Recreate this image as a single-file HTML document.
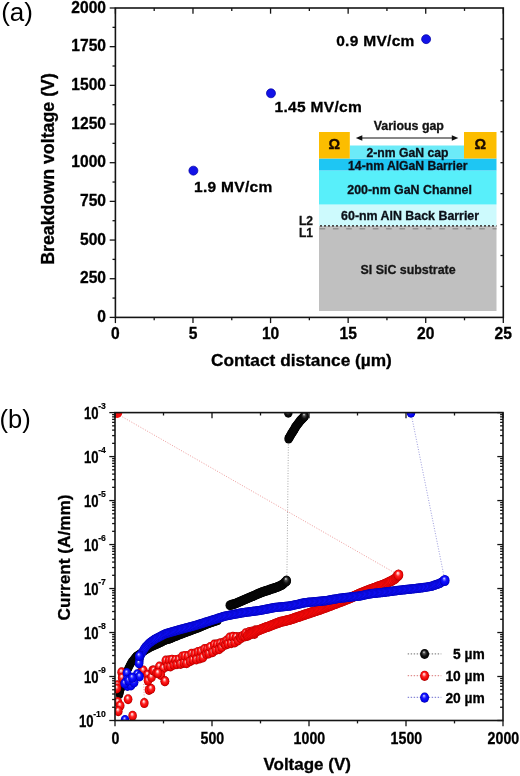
<!DOCTYPE html>
<html><head><meta charset="utf-8"><style>
html,body{margin:0;padding:0;background:#fff;width:520px;height:776px;overflow:hidden}
svg{display:block;font-family:'Liberation Sans', Arial, sans-serif}
</style></head><body>
<svg width="520" height="776" viewBox="0 0 520 776">
<defs>
<radialGradient id="gk" cx="0.5" cy="0.5" r="0.5" fx="0.42" fy="0.3"><stop offset="0" stop-color="#fff"/><stop offset="0.25" stop-color="#555"/><stop offset="0.6" stop-color="#111"/><stop offset="1" stop-color="#000"/></radialGradient>
<radialGradient id="gr" cx="0.5" cy="0.5" r="0.5" fx="0.42" fy="0.3"><stop offset="0" stop-color="#fff"/><stop offset="0.22" stop-color="#ffa0a0"/><stop offset="0.45" stop-color="#ff2424"/><stop offset="0.85" stop-color="#e80000"/><stop offset="1" stop-color="#a00000"/></radialGradient>
<radialGradient id="gb" cx="0.5" cy="0.5" r="0.5" fx="0.42" fy="0.3"><stop offset="0" stop-color="#fff"/><stop offset="0.2" stop-color="#7070ff"/><stop offset="0.45" stop-color="#1414ff"/><stop offset="0.85" stop-color="#0000e8"/><stop offset="1" stop-color="#0000a0"/></radialGradient>
<radialGradient id="tk" cx="0.5" cy="0.5" r="0.5"><stop offset="0" stop-color="#2a2a2a"/><stop offset="0.7" stop-color="#0a0a0a"/><stop offset="1" stop-color="#000"/></radialGradient>
<radialGradient id="tr" cx="0.5" cy="0.5" r="0.5"><stop offset="0" stop-color="#ff3a3a"/><stop offset="0.75" stop-color="#ff0c0c"/><stop offset="1" stop-color="#c80000"/></radialGradient>
<radialGradient id="tb" cx="0.5" cy="0.5" r="0.5"><stop offset="0" stop-color="#3a3aff"/><stop offset="0.75" stop-color="#1010ff"/><stop offset="1" stop-color="#0000b8"/></radialGradient>
<clipPath id="cb"><rect x="115.0" y="412.6" width="388.0" height="307.9"/></clipPath>
</defs>
<rect x="0" y="0" width="520" height="776" fill="#fff"/>
<text x="1.20" y="21.20" font-size="26" text-anchor="start" font-weight="normal" fill="#000" >(a)</text>
<rect x="319" y="226" width="177.5" height="85" fill="#c0c0c0"/>
<rect x="319" y="204.5" width="177.5" height="21.5" fill="#cdfafd"/>
<rect x="319" y="170.5" width="177.5" height="34" fill="#58effa"/>
<rect x="319" y="158.5" width="177.5" height="12" fill="#1ec6f3"/>
<rect x="349.8" y="145.5" width="114.4" height="13" fill="#6cebf8"/>
<rect x="319" y="132" width="30.8" height="26.5" fill="#fcbd00"/>
<rect x="464" y="132" width="32.5" height="26.5" fill="#fcbd00"/>
<line x1="320" y1="225.8" x2="496.5" y2="225.8" stroke="#4a4a4a" stroke-width="1.8" stroke-dasharray="2 2"/>
<line x1="319.6" y1="228.7" x2="496.5" y2="228.7" stroke="#929292" stroke-width="1.6" stroke-dasharray="5.6 7.7"/>
<line x1="361.00" y1="138.00" x2="453.00" y2="138.00" stroke="#111" stroke-width="1.2" />
<polygon points="355.8,138 362.3,135.3 362.3,140.7" fill="#111"/>
<polygon points="458.3,138 451.8,135.3 451.8,140.7" fill="#111"/>
<text x="408.80" y="130.00" font-size="12.4" text-anchor="middle" font-weight="bold" fill="#111" stroke="#111" stroke-width="0.3" >Various gap</text>
<text x="334.40" y="149.20" font-size="14.5" text-anchor="middle" font-weight="bold" fill="#1a0a00" stroke="#1a0a00" stroke-width="0.3" >&#937;</text>
<text x="480.30" y="149.20" font-size="14.5" text-anchor="middle" font-weight="bold" fill="#1a0a00" stroke="#1a0a00" stroke-width="0.3" >&#937;</text>
<text x="407.50" y="156.50" font-size="12.2" text-anchor="middle" font-weight="bold" fill="#0b0f18" stroke="#0b0f18" stroke-width="0.3" >2-nm GaN cap</text>
<text x="407.80" y="170.00" font-size="12.2" text-anchor="middle" font-weight="bold" fill="#0b0f18" stroke="#0b0f18" stroke-width="0.3" >14-nm AlGaN Barrier</text>
<text x="409.60" y="193.60" font-size="12.4" text-anchor="middle" font-weight="bold" fill="#0b0f18" stroke="#0b0f18" stroke-width="0.3" >200-nm GaN Channel</text>
<text x="410.10" y="219.80" font-size="12.4" text-anchor="middle" font-weight="bold" fill="#0b0f18" stroke="#0b0f18" stroke-width="0.3" >60-nm AlN Back Barrier</text>
<text x="408.10" y="273.60" font-size="12.4" text-anchor="middle" font-weight="bold" fill="#151515" stroke="#151515" stroke-width="0.3" >SI SiC substrate</text>
<text x="313.00" y="224.50" font-size="12" text-anchor="end" font-weight="bold" fill="#111" stroke="#111" stroke-width="0.3" >L2</text>
<text x="313.00" y="237.20" font-size="12" text-anchor="end" font-weight="bold" fill="#111" stroke="#111" stroke-width="0.3" >L1</text>
<rect x="115.4" y="8.0" width="387.9" height="309.4" fill="none" stroke="#141414" stroke-width="1.6"/>
<line x1="503.30" y1="286.46" x2="500.50" y2="286.46" stroke="#141414" stroke-width="1.3" />
<line x1="503.30" y1="255.52" x2="500.50" y2="255.52" stroke="#141414" stroke-width="1.3" />
<line x1="503.30" y1="224.58" x2="500.50" y2="224.58" stroke="#141414" stroke-width="1.3" />
<line x1="503.30" y1="193.64" x2="500.50" y2="193.64" stroke="#141414" stroke-width="1.3" />
<line x1="503.30" y1="162.70" x2="500.50" y2="162.70" stroke="#141414" stroke-width="1.3" />
<line x1="503.30" y1="131.76" x2="500.50" y2="131.76" stroke="#141414" stroke-width="1.3" />
<line x1="503.30" y1="100.82" x2="500.50" y2="100.82" stroke="#141414" stroke-width="1.3" />
<line x1="503.30" y1="69.88" x2="500.50" y2="69.88" stroke="#141414" stroke-width="1.3" />
<line x1="503.30" y1="38.94" x2="500.50" y2="38.94" stroke="#141414" stroke-width="1.3" />
<line x1="109.70" y1="317.40" x2="115.40" y2="317.40" stroke="#141414" stroke-width="1.3" />
<text x="106.00" y="321.90" font-size="15.6" text-anchor="end" font-weight="bold" fill="#000" stroke="#000" stroke-width="0.3" >0</text>
<line x1="112.50" y1="298.06" x2="115.40" y2="298.06" stroke="#141414" stroke-width="1.3" />
<line x1="109.70" y1="278.72" x2="115.40" y2="278.72" stroke="#141414" stroke-width="1.3" />
<text x="106.00" y="283.22" font-size="15.6" text-anchor="end" font-weight="bold" fill="#000" stroke="#000" stroke-width="0.3" >250</text>
<line x1="112.50" y1="259.39" x2="115.40" y2="259.39" stroke="#141414" stroke-width="1.3" />
<line x1="109.70" y1="240.05" x2="115.40" y2="240.05" stroke="#141414" stroke-width="1.3" />
<text x="106.00" y="244.55" font-size="15.6" text-anchor="end" font-weight="bold" fill="#000" stroke="#000" stroke-width="0.3" >500</text>
<line x1="112.50" y1="220.71" x2="115.40" y2="220.71" stroke="#141414" stroke-width="1.3" />
<line x1="109.70" y1="201.38" x2="115.40" y2="201.38" stroke="#141414" stroke-width="1.3" />
<text x="106.00" y="205.88" font-size="15.6" text-anchor="end" font-weight="bold" fill="#000" stroke="#000" stroke-width="0.3" >750</text>
<line x1="112.50" y1="182.04" x2="115.40" y2="182.04" stroke="#141414" stroke-width="1.3" />
<line x1="109.70" y1="162.70" x2="115.40" y2="162.70" stroke="#141414" stroke-width="1.3" />
<text x="106.00" y="167.20" font-size="15.6" text-anchor="end" font-weight="bold" fill="#000" stroke="#000" stroke-width="0.3" >1000</text>
<line x1="112.50" y1="143.36" x2="115.40" y2="143.36" stroke="#141414" stroke-width="1.3" />
<line x1="109.70" y1="124.02" x2="115.40" y2="124.02" stroke="#141414" stroke-width="1.3" />
<text x="106.00" y="128.52" font-size="15.6" text-anchor="end" font-weight="bold" fill="#000" stroke="#000" stroke-width="0.3" >1250</text>
<line x1="112.50" y1="104.69" x2="115.40" y2="104.69" stroke="#141414" stroke-width="1.3" />
<line x1="109.70" y1="85.35" x2="115.40" y2="85.35" stroke="#141414" stroke-width="1.3" />
<text x="106.00" y="89.85" font-size="15.6" text-anchor="end" font-weight="bold" fill="#000" stroke="#000" stroke-width="0.3" >1500</text>
<line x1="112.50" y1="66.01" x2="115.40" y2="66.01" stroke="#141414" stroke-width="1.3" />
<line x1="109.70" y1="46.67" x2="115.40" y2="46.67" stroke="#141414" stroke-width="1.3" />
<text x="106.00" y="51.17" font-size="15.6" text-anchor="end" font-weight="bold" fill="#000" stroke="#000" stroke-width="0.3" >1750</text>
<line x1="112.50" y1="27.34" x2="115.40" y2="27.34" stroke="#141414" stroke-width="1.3" />
<line x1="109.70" y1="8.00" x2="115.40" y2="8.00" stroke="#141414" stroke-width="1.3" />
<text x="106.00" y="12.50" font-size="15.6" text-anchor="end" font-weight="bold" fill="#000" stroke="#000" stroke-width="0.3" >2000</text>
<line x1="115.40" y1="317.40" x2="115.40" y2="323.10" stroke="#141414" stroke-width="1.3" />
<line x1="115.40" y1="8.00" x2="115.40" y2="13.70" stroke="#141414" stroke-width="1.3" />
<text x="115.40" y="338.90" font-size="15.6" text-anchor="middle" font-weight="bold" fill="#000" stroke="#000" stroke-width="0.3" >0</text>
<line x1="154.19" y1="317.40" x2="154.19" y2="320.30" stroke="#141414" stroke-width="1.3" />
<line x1="154.19" y1="8.00" x2="154.19" y2="10.90" stroke="#141414" stroke-width="1.3" />
<line x1="192.98" y1="317.40" x2="192.98" y2="323.10" stroke="#141414" stroke-width="1.3" />
<line x1="192.98" y1="8.00" x2="192.98" y2="13.70" stroke="#141414" stroke-width="1.3" />
<text x="192.98" y="338.90" font-size="15.6" text-anchor="middle" font-weight="bold" fill="#000" stroke="#000" stroke-width="0.3" >5</text>
<line x1="231.77" y1="317.40" x2="231.77" y2="320.30" stroke="#141414" stroke-width="1.3" />
<line x1="231.77" y1="8.00" x2="231.77" y2="10.90" stroke="#141414" stroke-width="1.3" />
<line x1="270.56" y1="317.40" x2="270.56" y2="323.10" stroke="#141414" stroke-width="1.3" />
<line x1="270.56" y1="8.00" x2="270.56" y2="13.70" stroke="#141414" stroke-width="1.3" />
<text x="270.56" y="338.90" font-size="15.6" text-anchor="middle" font-weight="bold" fill="#000" stroke="#000" stroke-width="0.3" >10</text>
<line x1="309.35" y1="317.40" x2="309.35" y2="320.30" stroke="#141414" stroke-width="1.3" />
<line x1="309.35" y1="8.00" x2="309.35" y2="10.90" stroke="#141414" stroke-width="1.3" />
<line x1="348.14" y1="317.40" x2="348.14" y2="323.10" stroke="#141414" stroke-width="1.3" />
<line x1="348.14" y1="8.00" x2="348.14" y2="13.70" stroke="#141414" stroke-width="1.3" />
<text x="348.14" y="338.90" font-size="15.6" text-anchor="middle" font-weight="bold" fill="#000" stroke="#000" stroke-width="0.3" >15</text>
<line x1="386.93" y1="317.40" x2="386.93" y2="320.30" stroke="#141414" stroke-width="1.3" />
<line x1="386.93" y1="8.00" x2="386.93" y2="10.90" stroke="#141414" stroke-width="1.3" />
<line x1="425.72" y1="317.40" x2="425.72" y2="323.10" stroke="#141414" stroke-width="1.3" />
<line x1="425.72" y1="8.00" x2="425.72" y2="13.70" stroke="#141414" stroke-width="1.3" />
<text x="425.72" y="338.90" font-size="15.6" text-anchor="middle" font-weight="bold" fill="#000" stroke="#000" stroke-width="0.3" >20</text>
<line x1="464.51" y1="317.40" x2="464.51" y2="320.30" stroke="#141414" stroke-width="1.3" />
<line x1="464.51" y1="8.00" x2="464.51" y2="10.90" stroke="#141414" stroke-width="1.3" />
<line x1="503.30" y1="317.40" x2="503.30" y2="323.10" stroke="#141414" stroke-width="1.3" />
<line x1="503.30" y1="8.00" x2="503.30" y2="13.70" stroke="#141414" stroke-width="1.3" />
<text x="503.30" y="338.90" font-size="15.6" text-anchor="middle" font-weight="bold" fill="#000" stroke="#000" stroke-width="0.3" >25</text>
<text x="211.00" y="366.40" font-size="17.3" text-anchor="start" font-weight="bold" fill="#000" stroke="#000" stroke-width="0.3" >Contact distance (&#181;m)</text>
<text x="0" y="0" font-size="17.8" font-weight="bold" stroke="#000" stroke-width="0.3" text-anchor="middle" transform="translate(54.2,169) rotate(-90)">Breakdown voltage (V)</text>
<circle cx="193.38" cy="170.63" r="4.5" fill="#1212e8" stroke="#0000a0" stroke-width="0.7"/>
<circle cx="270.96" cy="93.29" r="4.5" fill="#1212e8" stroke="#0000a0" stroke-width="0.7"/>
<circle cx="426.12" cy="39.14" r="4.5" fill="#1212e8" stroke="#0000a0" stroke-width="0.7"/>
<text x="336.20" y="46.40" font-size="15.5" text-anchor="start" font-weight="bold" fill="#000" stroke="#000" stroke-width="0.3" letter-spacing="0.3">0.9 MV/cm</text>
<text x="274.60" y="111.60" font-size="15.5" text-anchor="start" font-weight="bold" fill="#000" stroke="#000" stroke-width="0.3" letter-spacing="0.3">1.45 MV/cm</text>
<text x="194.00" y="191.90" font-size="15.5" text-anchor="start" font-weight="bold" fill="#000" stroke="#000" stroke-width="0.3" letter-spacing="0.3">1.9 MV/cm</text>
<text x="-0.40" y="427.80" font-size="25.5" text-anchor="start" font-weight="normal" fill="#000" >(b)</text>
<g clip-path="url(#cb)">
<path d="M286.9,578.0 L288.4,441.0" fill="none" stroke="#999" stroke-width="0.85" stroke-dasharray="1 1.6"/>
<path d="M398.5,575.0 L116.0,413.2" fill="none" stroke="#eb9090" stroke-width="0.9" stroke-dasharray="1 1.6"/>
<path d="M444.8,580.0 L411.0,413.0" fill="none" stroke="#9090d8" stroke-width="0.9" stroke-dasharray="1 1.6"/>
<path d="M143.8,684.0 L144.3,700.0" fill="none" stroke="#f08080" stroke-width="0.9" stroke-dasharray="1 1.6"/>
<ellipse cx="119.5" cy="694.5" rx="3.72" ry="4.28" fill="url(#tk)"/>
<ellipse cx="119.8" cy="693.0" rx="3.72" ry="4.28" fill="url(#tk)"/>
<ellipse cx="120.2" cy="691.5" rx="3.72" ry="4.28" fill="url(#tk)"/>
<ellipse cx="120.5" cy="690.0" rx="3.72" ry="4.28" fill="url(#tk)"/>
<ellipse cx="121.0" cy="688.8" rx="3.72" ry="4.28" fill="url(#tk)"/>
<ellipse cx="121.4" cy="687.6" rx="3.72" ry="4.28" fill="url(#tk)"/>
<ellipse cx="121.9" cy="686.4" rx="3.72" ry="4.28" fill="url(#tk)"/>
<ellipse cx="122.3" cy="685.2" rx="3.72" ry="4.28" fill="url(#tk)"/>
<ellipse cx="122.8" cy="684.0" rx="3.72" ry="4.28" fill="url(#tk)"/>
<ellipse cx="123.2" cy="682.8" rx="3.72" ry="4.28" fill="url(#tk)"/>
<ellipse cx="123.5" cy="681.7" rx="3.72" ry="4.28" fill="url(#tk)"/>
<ellipse cx="123.9" cy="680.5" rx="3.72" ry="4.28" fill="url(#tk)"/>
<ellipse cx="124.3" cy="679.3" rx="3.72" ry="4.28" fill="url(#tk)"/>
<ellipse cx="124.6" cy="678.2" rx="3.72" ry="4.28" fill="url(#tk)"/>
<ellipse cx="125.0" cy="677.0" rx="3.72" ry="4.28" fill="url(#tk)"/>
<ellipse cx="125.4" cy="675.8" rx="3.72" ry="4.28" fill="url(#tk)"/>
<ellipse cx="125.8" cy="674.7" rx="3.72" ry="4.28" fill="url(#tk)"/>
<ellipse cx="126.2" cy="673.5" rx="3.72" ry="4.28" fill="url(#tk)"/>
<ellipse cx="126.7" cy="672.3" rx="3.72" ry="4.28" fill="url(#tk)"/>
<ellipse cx="127.1" cy="671.2" rx="3.72" ry="4.28" fill="url(#tk)"/>
<ellipse cx="127.5" cy="670.0" rx="3.72" ry="4.28" fill="url(#tk)"/>
<ellipse cx="128.1" cy="668.8" rx="3.72" ry="4.28" fill="url(#tk)"/>
<ellipse cx="128.7" cy="667.7" rx="3.72" ry="4.28" fill="url(#tk)"/>
<ellipse cx="129.2" cy="666.5" rx="3.72" ry="4.28" fill="url(#tk)"/>
<ellipse cx="129.8" cy="665.3" rx="3.72" ry="4.28" fill="url(#tk)"/>
<ellipse cx="130.4" cy="664.2" rx="3.72" ry="4.28" fill="url(#tk)"/>
<ellipse cx="131.0" cy="663.0" rx="3.72" ry="4.28" fill="url(#tk)"/>
<ellipse cx="131.8" cy="661.9" rx="3.72" ry="4.28" fill="url(#tk)"/>
<ellipse cx="132.7" cy="660.8" rx="3.72" ry="4.28" fill="url(#tk)"/>
<ellipse cx="133.5" cy="659.8" rx="3.72" ry="4.28" fill="url(#tk)"/>
<ellipse cx="134.3" cy="658.7" rx="3.72" ry="4.28" fill="url(#tk)"/>
<ellipse cx="135.2" cy="657.6" rx="3.72" ry="4.28" fill="url(#tk)"/>
<ellipse cx="136.0" cy="656.5" rx="3.72" ry="4.28" fill="url(#tk)"/>
<ellipse cx="137.0" cy="655.8" rx="3.72" ry="4.28" fill="url(#tk)"/>
<ellipse cx="138.0" cy="655.2" rx="3.72" ry="4.28" fill="url(#tk)"/>
<ellipse cx="139.0" cy="654.5" rx="3.72" ry="4.28" fill="url(#tk)"/>
<ellipse cx="140.0" cy="653.8" rx="3.72" ry="4.28" fill="url(#tk)"/>
<ellipse cx="141.0" cy="653.2" rx="3.72" ry="4.28" fill="url(#tk)"/>
<ellipse cx="142.0" cy="652.5" rx="3.72" ry="4.28" fill="url(#tk)"/>
<ellipse cx="143.0" cy="651.8" rx="3.72" ry="4.28" fill="url(#tk)"/>
<ellipse cx="144.0" cy="651.2" rx="3.72" ry="4.28" fill="url(#tk)"/>
<ellipse cx="145.0" cy="650.5" rx="3.72" ry="4.28" fill="url(#tk)"/>
<ellipse cx="146.2" cy="649.8" rx="3.72" ry="4.28" fill="url(#tk)"/>
<ellipse cx="147.5" cy="649.0" rx="3.72" ry="4.28" fill="url(#tk)"/>
<ellipse cx="148.8" cy="648.2" rx="3.72" ry="4.28" fill="url(#tk)"/>
<ellipse cx="150.0" cy="647.5" rx="3.72" ry="4.28" fill="url(#tk)"/>
<ellipse cx="151.1" cy="647.0" rx="3.72" ry="4.28" fill="url(#tk)"/>
<ellipse cx="152.2" cy="646.5" rx="3.72" ry="4.28" fill="url(#tk)"/>
<ellipse cx="153.3" cy="646.0" rx="3.72" ry="4.28" fill="url(#tk)"/>
<ellipse cx="154.4" cy="645.5" rx="3.72" ry="4.28" fill="url(#tk)"/>
<ellipse cx="155.6" cy="645.0" rx="3.72" ry="4.28" fill="url(#tk)"/>
<ellipse cx="156.7" cy="644.5" rx="3.72" ry="4.28" fill="url(#tk)"/>
<ellipse cx="157.8" cy="644.0" rx="3.72" ry="4.28" fill="url(#tk)"/>
<ellipse cx="158.9" cy="643.5" rx="3.72" ry="4.28" fill="url(#tk)"/>
<ellipse cx="160.0" cy="643.0" rx="3.72" ry="4.28" fill="url(#tk)"/>
<ellipse cx="161.2" cy="642.4" rx="3.72" ry="4.28" fill="url(#tk)"/>
<ellipse cx="162.5" cy="641.8" rx="3.72" ry="4.28" fill="url(#tk)"/>
<ellipse cx="163.8" cy="641.1" rx="3.72" ry="4.28" fill="url(#tk)"/>
<ellipse cx="165.0" cy="640.5" rx="3.72" ry="4.28" fill="url(#tk)"/>
<ellipse cx="166.2" cy="640.1" rx="3.72" ry="4.28" fill="url(#tk)"/>
<ellipse cx="167.5" cy="639.8" rx="3.72" ry="4.28" fill="url(#tk)"/>
<ellipse cx="168.8" cy="639.4" rx="3.72" ry="4.28" fill="url(#tk)"/>
<ellipse cx="170.0" cy="639.0" rx="3.72" ry="4.28" fill="url(#tk)"/>
<ellipse cx="171.1" cy="638.5" rx="3.72" ry="4.28" fill="url(#tk)"/>
<ellipse cx="172.2" cy="638.1" rx="3.72" ry="4.28" fill="url(#tk)"/>
<ellipse cx="173.3" cy="637.6" rx="3.72" ry="4.28" fill="url(#tk)"/>
<ellipse cx="174.4" cy="637.1" rx="3.72" ry="4.28" fill="url(#tk)"/>
<ellipse cx="175.6" cy="636.7" rx="3.72" ry="4.28" fill="url(#tk)"/>
<ellipse cx="176.7" cy="636.2" rx="3.72" ry="4.28" fill="url(#tk)"/>
<ellipse cx="177.8" cy="635.7" rx="3.72" ry="4.28" fill="url(#tk)"/>
<ellipse cx="178.9" cy="635.3" rx="3.72" ry="4.28" fill="url(#tk)"/>
<ellipse cx="180.0" cy="634.8" rx="3.72" ry="4.28" fill="url(#tk)"/>
<ellipse cx="181.2" cy="634.4" rx="3.72" ry="4.28" fill="url(#tk)"/>
<ellipse cx="182.3" cy="634.0" rx="3.72" ry="4.28" fill="url(#tk)"/>
<ellipse cx="183.5" cy="633.5" rx="3.72" ry="4.28" fill="url(#tk)"/>
<ellipse cx="184.6" cy="633.1" rx="3.72" ry="4.28" fill="url(#tk)"/>
<ellipse cx="185.8" cy="632.7" rx="3.72" ry="4.28" fill="url(#tk)"/>
<ellipse cx="186.9" cy="632.3" rx="3.72" ry="4.28" fill="url(#tk)"/>
<ellipse cx="188.1" cy="631.8" rx="3.72" ry="4.28" fill="url(#tk)"/>
<ellipse cx="189.2" cy="631.4" rx="3.72" ry="4.28" fill="url(#tk)"/>
<ellipse cx="190.4" cy="631.0" rx="3.72" ry="4.28" fill="url(#tk)"/>
<ellipse cx="191.5" cy="630.6" rx="3.72" ry="4.28" fill="url(#tk)"/>
<ellipse cx="192.7" cy="630.1" rx="3.72" ry="4.28" fill="url(#tk)"/>
<ellipse cx="193.8" cy="629.7" rx="3.72" ry="4.28" fill="url(#tk)"/>
<ellipse cx="195.0" cy="629.3" rx="3.72" ry="4.28" fill="url(#tk)"/>
<ellipse cx="196.2" cy="628.8" rx="3.72" ry="4.28" fill="url(#tk)"/>
<ellipse cx="197.3" cy="628.4" rx="3.72" ry="4.28" fill="url(#tk)"/>
<ellipse cx="198.5" cy="627.9" rx="3.72" ry="4.28" fill="url(#tk)"/>
<ellipse cx="199.6" cy="627.4" rx="3.72" ry="4.28" fill="url(#tk)"/>
<ellipse cx="200.8" cy="627.0" rx="3.72" ry="4.28" fill="url(#tk)"/>
<ellipse cx="201.9" cy="626.5" rx="3.72" ry="4.28" fill="url(#tk)"/>
<ellipse cx="203.1" cy="626.0" rx="3.72" ry="4.28" fill="url(#tk)"/>
<ellipse cx="204.2" cy="625.5" rx="3.72" ry="4.28" fill="url(#tk)"/>
<ellipse cx="205.4" cy="625.1" rx="3.72" ry="4.28" fill="url(#tk)"/>
<ellipse cx="206.5" cy="624.6" rx="3.72" ry="4.28" fill="url(#tk)"/>
<ellipse cx="207.7" cy="624.1" rx="3.72" ry="4.28" fill="url(#tk)"/>
<ellipse cx="208.8" cy="623.7" rx="3.72" ry="4.28" fill="url(#tk)"/>
<ellipse cx="210.0" cy="623.2" rx="3.72" ry="4.28" fill="url(#tk)"/>
<ellipse cx="211.1" cy="622.8" rx="3.72" ry="4.28" fill="url(#tk)"/>
<ellipse cx="212.3" cy="622.5" rx="3.72" ry="4.28" fill="url(#tk)"/>
<ellipse cx="213.4" cy="622.1" rx="3.72" ry="4.28" fill="url(#tk)"/>
<ellipse cx="214.6" cy="621.7" rx="3.72" ry="4.28" fill="url(#tk)"/>
<ellipse cx="215.7" cy="621.3" rx="3.72" ry="4.28" fill="url(#tk)"/>
<ellipse cx="216.9" cy="621.0" rx="3.72" ry="4.28" fill="url(#tk)"/>
<ellipse cx="218.0" cy="620.6" rx="3.72" ry="4.28" fill="url(#tk)"/>
<ellipse cx="229.8" cy="605.3" rx="4.28" ry="4.92" fill="url(#tk)"/>
<ellipse cx="231.1" cy="604.9" rx="4.28" ry="4.92" fill="url(#tk)"/>
<ellipse cx="232.4" cy="604.5" rx="4.28" ry="4.92" fill="url(#tk)"/>
<ellipse cx="233.7" cy="604.2" rx="4.28" ry="4.92" fill="url(#tk)"/>
<ellipse cx="235.0" cy="603.8" rx="4.28" ry="4.92" fill="url(#tk)"/>
<ellipse cx="236.2" cy="603.3" rx="4.28" ry="4.92" fill="url(#tk)"/>
<ellipse cx="237.3" cy="602.8" rx="4.28" ry="4.92" fill="url(#tk)"/>
<ellipse cx="238.4" cy="602.3" rx="4.28" ry="4.92" fill="url(#tk)"/>
<ellipse cx="239.6" cy="601.8" rx="4.28" ry="4.92" fill="url(#tk)"/>
<ellipse cx="240.8" cy="601.3" rx="4.28" ry="4.92" fill="url(#tk)"/>
<ellipse cx="241.9" cy="600.8" rx="4.28" ry="4.92" fill="url(#tk)"/>
<ellipse cx="243.1" cy="600.3" rx="4.28" ry="4.92" fill="url(#tk)"/>
<ellipse cx="244.2" cy="599.8" rx="4.28" ry="4.92" fill="url(#tk)"/>
<ellipse cx="245.4" cy="599.3" rx="4.28" ry="4.92" fill="url(#tk)"/>
<ellipse cx="246.5" cy="598.8" rx="4.28" ry="4.92" fill="url(#tk)"/>
<ellipse cx="247.7" cy="598.3" rx="4.28" ry="4.92" fill="url(#tk)"/>
<ellipse cx="248.8" cy="597.8" rx="4.28" ry="4.92" fill="url(#tk)"/>
<ellipse cx="250.0" cy="597.3" rx="4.28" ry="4.92" fill="url(#tk)"/>
<ellipse cx="251.2" cy="596.8" rx="4.28" ry="4.92" fill="url(#tk)"/>
<ellipse cx="252.4" cy="596.3" rx="4.28" ry="4.92" fill="url(#tk)"/>
<ellipse cx="253.6" cy="595.8" rx="4.28" ry="4.92" fill="url(#tk)"/>
<ellipse cx="254.8" cy="595.3" rx="4.28" ry="4.92" fill="url(#tk)"/>
<ellipse cx="256.0" cy="594.7" rx="4.28" ry="4.92" fill="url(#tk)"/>
<ellipse cx="257.2" cy="594.2" rx="4.28" ry="4.92" fill="url(#tk)"/>
<ellipse cx="258.4" cy="593.7" rx="4.28" ry="4.92" fill="url(#tk)"/>
<ellipse cx="259.6" cy="593.2" rx="4.28" ry="4.92" fill="url(#tk)"/>
<ellipse cx="260.8" cy="592.7" rx="4.28" ry="4.92" fill="url(#tk)"/>
<ellipse cx="262.0" cy="592.2" rx="4.28" ry="4.92" fill="url(#tk)"/>
<ellipse cx="263.2" cy="591.8" rx="4.28" ry="4.92" fill="url(#tk)"/>
<ellipse cx="264.3" cy="591.4" rx="4.28" ry="4.92" fill="url(#tk)"/>
<ellipse cx="265.5" cy="591.0" rx="4.28" ry="4.92" fill="url(#tk)"/>
<ellipse cx="266.6" cy="590.7" rx="4.28" ry="4.92" fill="url(#tk)"/>
<ellipse cx="267.8" cy="590.3" rx="4.28" ry="4.92" fill="url(#tk)"/>
<ellipse cx="268.9" cy="589.9" rx="4.28" ry="4.92" fill="url(#tk)"/>
<ellipse cx="270.1" cy="589.5" rx="4.28" ry="4.92" fill="url(#tk)"/>
<ellipse cx="271.2" cy="589.1" rx="4.28" ry="4.92" fill="url(#tk)"/>
<ellipse cx="272.4" cy="588.7" rx="4.28" ry="4.92" fill="url(#tk)"/>
<ellipse cx="273.5" cy="588.4" rx="4.28" ry="4.92" fill="url(#tk)"/>
<ellipse cx="274.7" cy="588.0" rx="4.28" ry="4.92" fill="url(#tk)"/>
<ellipse cx="275.8" cy="587.6" rx="4.28" ry="4.92" fill="url(#tk)"/>
<ellipse cx="277.0" cy="587.2" rx="4.28" ry="4.92" fill="url(#tk)"/>
<ellipse cx="278.2" cy="586.7" rx="4.28" ry="4.92" fill="url(#tk)"/>
<ellipse cx="279.5" cy="586.1" rx="4.28" ry="4.92" fill="url(#tk)"/>
<ellipse cx="280.8" cy="585.5" rx="4.28" ry="4.92" fill="url(#tk)"/>
<ellipse cx="282.0" cy="585.0" rx="4.28" ry="4.92" fill="url(#tk)"/>
<ellipse cx="282.9" cy="584.2" rx="4.28" ry="4.92" fill="url(#tk)"/>
<ellipse cx="283.8" cy="583.4" rx="4.28" ry="4.92" fill="url(#tk)"/>
<ellipse cx="284.7" cy="582.6" rx="4.28" ry="4.92" fill="url(#tk)"/>
<ellipse cx="285.6" cy="581.8" rx="4.28" ry="4.92" fill="url(#tk)"/>
<ellipse cx="286.5" cy="581.0" rx="4.28" ry="4.92" fill="url(#tk)"/>
<ellipse cx="286.5" cy="580.8" rx="4.60" ry="5.34" fill="url(#gk)"/>
<ellipse cx="288.3" cy="412.8" rx="4.30" ry="4.99" fill="url(#gk)"/>
<ellipse cx="288.6" cy="438.7" rx="4.28" ry="4.92" fill="url(#tk)"/>
<ellipse cx="289.3" cy="437.6" rx="4.28" ry="4.92" fill="url(#tk)"/>
<ellipse cx="290.0" cy="436.4" rx="4.28" ry="4.92" fill="url(#tk)"/>
<ellipse cx="290.6" cy="435.3" rx="4.28" ry="4.92" fill="url(#tk)"/>
<ellipse cx="291.3" cy="434.1" rx="4.28" ry="4.92" fill="url(#tk)"/>
<ellipse cx="292.0" cy="433.0" rx="4.28" ry="4.92" fill="url(#tk)"/>
<ellipse cx="292.6" cy="432.0" rx="4.28" ry="4.92" fill="url(#tk)"/>
<ellipse cx="293.3" cy="430.9" rx="4.28" ry="4.92" fill="url(#tk)"/>
<ellipse cx="293.9" cy="429.9" rx="4.28" ry="4.92" fill="url(#tk)"/>
<ellipse cx="294.5" cy="428.9" rx="4.28" ry="4.92" fill="url(#tk)"/>
<ellipse cx="295.2" cy="427.8" rx="4.28" ry="4.92" fill="url(#tk)"/>
<ellipse cx="295.8" cy="426.8" rx="4.28" ry="4.92" fill="url(#tk)"/>
<ellipse cx="296.6" cy="425.6" rx="4.28" ry="4.92" fill="url(#tk)"/>
<ellipse cx="297.5" cy="424.5" rx="4.28" ry="4.92" fill="url(#tk)"/>
<ellipse cx="298.3" cy="423.3" rx="4.28" ry="4.92" fill="url(#tk)"/>
<ellipse cx="299.2" cy="422.2" rx="4.28" ry="4.92" fill="url(#tk)"/>
<ellipse cx="300.0" cy="421.0" rx="4.28" ry="4.92" fill="url(#tk)"/>
<ellipse cx="301.0" cy="419.9" rx="4.28" ry="4.92" fill="url(#tk)"/>
<ellipse cx="302.0" cy="418.9" rx="4.28" ry="4.92" fill="url(#tk)"/>
<ellipse cx="303.0" cy="417.9" rx="4.28" ry="4.92" fill="url(#tk)"/>
<ellipse cx="304.0" cy="416.8" rx="4.28" ry="4.92" fill="url(#tk)"/>
<ellipse cx="304.6" cy="416.3" rx="4.30" ry="4.99" fill="url(#gk)"/>
<ellipse cx="121.6" cy="672.3" rx="4.30" ry="4.99" fill="url(#gr)"/>
<ellipse cx="122.1" cy="677.8" rx="4.30" ry="4.99" fill="url(#gr)"/>
<ellipse cx="117.4" cy="685.3" rx="4.30" ry="4.99" fill="url(#gr)"/>
<ellipse cx="116.8" cy="688.5" rx="4.30" ry="4.99" fill="url(#gr)"/>
<ellipse cx="128.1" cy="699.2" rx="4.30" ry="4.99" fill="url(#gr)"/>
<ellipse cx="117.9" cy="702.0" rx="4.30" ry="4.99" fill="url(#gr)"/>
<ellipse cx="120.2" cy="705.7" rx="4.30" ry="4.99" fill="url(#gr)"/>
<ellipse cx="118.3" cy="711.2" rx="4.30" ry="4.99" fill="url(#gr)"/>
<ellipse cx="132.6" cy="715.8" rx="4.30" ry="4.99" fill="url(#gr)"/>
<ellipse cx="144.3" cy="703.1" rx="4.30" ry="4.99" fill="url(#gr)"/>
<ellipse cx="149.0" cy="689.9" rx="4.30" ry="4.99" fill="url(#gr)"/>
<ellipse cx="151.0" cy="688.8" rx="4.30" ry="4.99" fill="url(#gr)"/>
<ellipse cx="141.5" cy="671.2" rx="4.30" ry="4.99" fill="url(#gr)"/>
<ellipse cx="143.3" cy="670.6" rx="4.30" ry="4.99" fill="url(#gr)"/>
<ellipse cx="147.6" cy="674.8" rx="4.30" ry="4.99" fill="url(#gr)"/>
<ellipse cx="148.0" cy="680.6" rx="4.30" ry="4.99" fill="url(#gr)"/>
<ellipse cx="152.7" cy="670.4" rx="4.30" ry="4.99" fill="url(#gr)"/>
<ellipse cx="151.5" cy="677.3" rx="4.30" ry="4.99" fill="url(#gr)"/>
<ellipse cx="153.8" cy="670.6" rx="4.30" ry="4.99" fill="url(#gr)"/>
<ellipse cx="156.7" cy="672.7" rx="4.30" ry="4.99" fill="url(#gr)"/>
<ellipse cx="159.4" cy="666.6" rx="4.30" ry="4.99" fill="url(#gr)"/>
<ellipse cx="163.5" cy="668.2" rx="4.30" ry="4.99" fill="url(#gr)"/>
<ellipse cx="160.8" cy="675.0" rx="4.30" ry="4.99" fill="url(#gr)"/>
<ellipse cx="158.0" cy="673.1" rx="4.30" ry="4.99" fill="url(#gr)"/>
<ellipse cx="164.8" cy="681.3" rx="4.30" ry="4.99" fill="url(#gr)"/>
<ellipse cx="165.0" cy="681.2" rx="4.30" ry="4.99" fill="url(#gr)"/>
<ellipse cx="165.9" cy="660.7" rx="4.40" ry="5.10" fill="url(#gr)"/>
<ellipse cx="167.7" cy="666.1" rx="4.40" ry="5.10" fill="url(#gr)"/>
<ellipse cx="169.2" cy="660.4" rx="4.40" ry="5.10" fill="url(#gr)"/>
<ellipse cx="170.4" cy="666.3" rx="4.40" ry="5.10" fill="url(#gr)"/>
<ellipse cx="172.0" cy="659.8" rx="4.40" ry="5.10" fill="url(#gr)"/>
<ellipse cx="173.7" cy="664.6" rx="4.40" ry="5.10" fill="url(#gr)"/>
<ellipse cx="175.5" cy="660.0" rx="4.40" ry="5.10" fill="url(#gr)"/>
<ellipse cx="176.9" cy="664.2" rx="4.40" ry="5.10" fill="url(#gr)"/>
<ellipse cx="178.9" cy="659.5" rx="4.40" ry="5.10" fill="url(#gr)"/>
<ellipse cx="180.5" cy="663.8" rx="4.40" ry="5.10" fill="url(#gr)"/>
<ellipse cx="182.4" cy="656.6" rx="4.40" ry="5.10" fill="url(#gr)"/>
<ellipse cx="183.9" cy="662.8" rx="4.40" ry="5.10" fill="url(#gr)"/>
<ellipse cx="184.9" cy="656.0" rx="4.40" ry="5.10" fill="url(#gr)"/>
<ellipse cx="186.6" cy="663.2" rx="4.40" ry="5.10" fill="url(#gr)"/>
<ellipse cx="188.1" cy="656.1" rx="4.40" ry="5.10" fill="url(#gr)"/>
<ellipse cx="190.1" cy="661.1" rx="4.40" ry="5.10" fill="url(#gr)"/>
<ellipse cx="191.6" cy="653.8" rx="4.40" ry="5.10" fill="url(#gr)"/>
<ellipse cx="192.8" cy="659.7" rx="4.40" ry="5.10" fill="url(#gr)"/>
<ellipse cx="194.9" cy="653.7" rx="4.40" ry="5.10" fill="url(#gr)"/>
<ellipse cx="196.3" cy="659.4" rx="4.40" ry="5.10" fill="url(#gr)"/>
<ellipse cx="198.0" cy="652.1" rx="4.40" ry="5.10" fill="url(#gr)"/>
<ellipse cx="199.8" cy="658.4" rx="4.40" ry="5.10" fill="url(#gr)"/>
<ellipse cx="201.0" cy="651.4" rx="4.40" ry="5.10" fill="url(#gr)"/>
<ellipse cx="202.8" cy="657.4" rx="4.40" ry="5.10" fill="url(#gr)"/>
<ellipse cx="204.6" cy="649.2" rx="4.40" ry="5.10" fill="url(#gr)"/>
<ellipse cx="206.4" cy="654.0" rx="4.40" ry="5.10" fill="url(#gr)"/>
<ellipse cx="207.5" cy="648.8" rx="4.40" ry="5.10" fill="url(#gr)"/>
<ellipse cx="208.9" cy="653.4" rx="4.40" ry="5.10" fill="url(#gr)"/>
<ellipse cx="210.4" cy="647.1" rx="4.40" ry="5.10" fill="url(#gr)"/>
<ellipse cx="212.6" cy="652.1" rx="4.40" ry="5.10" fill="url(#gr)"/>
<ellipse cx="214.3" cy="644.7" rx="4.40" ry="5.10" fill="url(#gr)"/>
<ellipse cx="215.8" cy="649.9" rx="4.40" ry="5.10" fill="url(#gr)"/>
<ellipse cx="217.3" cy="644.4" rx="4.40" ry="5.10" fill="url(#gr)"/>
<ellipse cx="219.1" cy="649.2" rx="4.40" ry="5.10" fill="url(#gr)"/>
<ellipse cx="220.4" cy="643.4" rx="4.40" ry="5.10" fill="url(#gr)"/>
<ellipse cx="221.6" cy="647.2" rx="4.40" ry="5.10" fill="url(#gr)"/>
<ellipse cx="223.7" cy="642.7" rx="4.40" ry="5.10" fill="url(#gr)"/>
<ellipse cx="225.5" cy="644.7" rx="4.40" ry="5.10" fill="url(#gr)"/>
<ellipse cx="226.7" cy="640.5" rx="4.40" ry="5.10" fill="url(#gr)"/>
<ellipse cx="228.0" cy="643.6" rx="4.40" ry="5.10" fill="url(#gr)"/>
<ellipse cx="229.7" cy="637.7" rx="4.40" ry="5.10" fill="url(#gr)"/>
<ellipse cx="231.2" cy="643.1" rx="4.40" ry="5.10" fill="url(#gr)"/>
<ellipse cx="232.9" cy="636.9" rx="4.40" ry="5.10" fill="url(#gr)"/>
<ellipse cx="234.7" cy="642.3" rx="4.40" ry="5.10" fill="url(#gr)"/>
<ellipse cx="236.1" cy="637.2" rx="4.40" ry="5.10" fill="url(#gr)"/>
<ellipse cx="238.0" cy="640.4" rx="4.40" ry="5.10" fill="url(#gr)"/>
<ellipse cx="239.9" cy="637.2" rx="4.40" ry="5.10" fill="url(#gr)"/>
<ellipse cx="241.0" cy="638.2" rx="4.40" ry="5.10" fill="url(#gr)"/>
<ellipse cx="242.7" cy="636.2" rx="4.40" ry="5.10" fill="url(#gr)"/>
<ellipse cx="244.8" cy="636.5" rx="4.40" ry="5.10" fill="url(#gr)"/>
<ellipse cx="245.7" cy="633.4" rx="4.40" ry="5.10" fill="url(#gr)"/>
<ellipse cx="247.4" cy="636.0" rx="4.40" ry="5.10" fill="url(#gr)"/>
<ellipse cx="249.3" cy="632.2" rx="4.40" ry="5.10" fill="url(#gr)"/>
<ellipse cx="250.4" cy="634.5" rx="4.40" ry="5.10" fill="url(#gr)"/>
<ellipse cx="252.3" cy="631.6" rx="4.40" ry="5.10" fill="url(#gr)"/>
<ellipse cx="254.4" cy="633.8" rx="4.40" ry="5.10" fill="url(#gr)"/>
<ellipse cx="255.6" cy="630.4" rx="4.40" ry="5.10" fill="url(#gr)"/>
<ellipse cx="248.0" cy="634.8" rx="4.46" ry="5.14" fill="url(#tr)"/>
<ellipse cx="249.2" cy="634.3" rx="4.46" ry="5.14" fill="url(#tr)"/>
<ellipse cx="250.4" cy="633.8" rx="4.46" ry="5.14" fill="url(#tr)"/>
<ellipse cx="251.6" cy="633.2" rx="4.46" ry="5.14" fill="url(#tr)"/>
<ellipse cx="252.8" cy="632.7" rx="4.46" ry="5.14" fill="url(#tr)"/>
<ellipse cx="254.0" cy="632.2" rx="4.46" ry="5.14" fill="url(#tr)"/>
<ellipse cx="255.2" cy="631.7" rx="4.46" ry="5.14" fill="url(#tr)"/>
<ellipse cx="256.4" cy="631.2" rx="4.46" ry="5.14" fill="url(#tr)"/>
<ellipse cx="257.6" cy="630.6" rx="4.46" ry="5.14" fill="url(#tr)"/>
<ellipse cx="258.8" cy="630.1" rx="4.46" ry="5.14" fill="url(#tr)"/>
<ellipse cx="260.0" cy="629.6" rx="4.46" ry="5.14" fill="url(#tr)"/>
<ellipse cx="261.2" cy="629.1" rx="4.46" ry="5.14" fill="url(#tr)"/>
<ellipse cx="262.5" cy="628.6" rx="4.46" ry="5.14" fill="url(#tr)"/>
<ellipse cx="263.8" cy="628.2" rx="4.46" ry="5.14" fill="url(#tr)"/>
<ellipse cx="265.0" cy="627.7" rx="4.46" ry="5.14" fill="url(#tr)"/>
<ellipse cx="266.2" cy="627.2" rx="4.46" ry="5.14" fill="url(#tr)"/>
<ellipse cx="267.5" cy="626.8" rx="4.46" ry="5.14" fill="url(#tr)"/>
<ellipse cx="268.8" cy="626.3" rx="4.46" ry="5.14" fill="url(#tr)"/>
<ellipse cx="270.0" cy="625.8" rx="4.46" ry="5.14" fill="url(#tr)"/>
<ellipse cx="271.2" cy="625.3" rx="4.46" ry="5.14" fill="url(#tr)"/>
<ellipse cx="272.5" cy="624.8" rx="4.46" ry="5.14" fill="url(#tr)"/>
<ellipse cx="273.8" cy="624.4" rx="4.46" ry="5.14" fill="url(#tr)"/>
<ellipse cx="275.0" cy="623.9" rx="4.46" ry="5.14" fill="url(#tr)"/>
<ellipse cx="276.2" cy="623.4" rx="4.46" ry="5.14" fill="url(#tr)"/>
<ellipse cx="277.5" cy="623.0" rx="4.46" ry="5.14" fill="url(#tr)"/>
<ellipse cx="278.8" cy="622.5" rx="4.46" ry="5.14" fill="url(#tr)"/>
<ellipse cx="280.0" cy="622.0" rx="4.46" ry="5.14" fill="url(#tr)"/>
<ellipse cx="281.2" cy="621.7" rx="4.46" ry="5.14" fill="url(#tr)"/>
<ellipse cx="282.5" cy="621.4" rx="4.46" ry="5.14" fill="url(#tr)"/>
<ellipse cx="283.8" cy="621.1" rx="4.46" ry="5.14" fill="url(#tr)"/>
<ellipse cx="285.0" cy="620.8" rx="4.46" ry="5.14" fill="url(#tr)"/>
<ellipse cx="286.2" cy="620.5" rx="4.46" ry="5.14" fill="url(#tr)"/>
<ellipse cx="287.5" cy="620.2" rx="4.46" ry="5.14" fill="url(#tr)"/>
<ellipse cx="288.8" cy="619.9" rx="4.46" ry="5.14" fill="url(#tr)"/>
<ellipse cx="290.0" cy="619.6" rx="4.46" ry="5.14" fill="url(#tr)"/>
<ellipse cx="291.2" cy="619.2" rx="4.46" ry="5.14" fill="url(#tr)"/>
<ellipse cx="292.3" cy="618.8" rx="4.46" ry="5.14" fill="url(#tr)"/>
<ellipse cx="293.5" cy="618.4" rx="4.46" ry="5.14" fill="url(#tr)"/>
<ellipse cx="294.6" cy="618.0" rx="4.46" ry="5.14" fill="url(#tr)"/>
<ellipse cx="295.8" cy="617.6" rx="4.46" ry="5.14" fill="url(#tr)"/>
<ellipse cx="296.9" cy="617.2" rx="4.46" ry="5.14" fill="url(#tr)"/>
<ellipse cx="298.1" cy="616.9" rx="4.46" ry="5.14" fill="url(#tr)"/>
<ellipse cx="299.2" cy="616.5" rx="4.46" ry="5.14" fill="url(#tr)"/>
<ellipse cx="300.4" cy="616.1" rx="4.46" ry="5.14" fill="url(#tr)"/>
<ellipse cx="301.5" cy="615.7" rx="4.46" ry="5.14" fill="url(#tr)"/>
<ellipse cx="302.7" cy="615.3" rx="4.46" ry="5.14" fill="url(#tr)"/>
<ellipse cx="303.8" cy="614.9" rx="4.46" ry="5.14" fill="url(#tr)"/>
<ellipse cx="305.0" cy="614.5" rx="4.46" ry="5.14" fill="url(#tr)"/>
<ellipse cx="306.2" cy="614.1" rx="4.46" ry="5.14" fill="url(#tr)"/>
<ellipse cx="307.5" cy="613.7" rx="4.46" ry="5.14" fill="url(#tr)"/>
<ellipse cx="308.8" cy="613.3" rx="4.46" ry="5.14" fill="url(#tr)"/>
<ellipse cx="310.0" cy="612.9" rx="4.46" ry="5.14" fill="url(#tr)"/>
<ellipse cx="311.2" cy="612.4" rx="4.46" ry="5.14" fill="url(#tr)"/>
<ellipse cx="312.5" cy="612.0" rx="4.46" ry="5.14" fill="url(#tr)"/>
<ellipse cx="313.8" cy="611.6" rx="4.46" ry="5.14" fill="url(#tr)"/>
<ellipse cx="315.0" cy="611.2" rx="4.46" ry="5.14" fill="url(#tr)"/>
<ellipse cx="316.2" cy="610.8" rx="4.46" ry="5.14" fill="url(#tr)"/>
<ellipse cx="317.5" cy="610.3" rx="4.46" ry="5.14" fill="url(#tr)"/>
<ellipse cx="318.8" cy="609.9" rx="4.46" ry="5.14" fill="url(#tr)"/>
<ellipse cx="320.0" cy="609.5" rx="4.46" ry="5.14" fill="url(#tr)"/>
<ellipse cx="321.2" cy="609.0" rx="4.46" ry="5.14" fill="url(#tr)"/>
<ellipse cx="322.5" cy="608.6" rx="4.46" ry="5.14" fill="url(#tr)"/>
<ellipse cx="323.8" cy="608.1" rx="4.46" ry="5.14" fill="url(#tr)"/>
<ellipse cx="325.0" cy="607.7" rx="4.46" ry="5.14" fill="url(#tr)"/>
<ellipse cx="326.2" cy="607.3" rx="4.46" ry="5.14" fill="url(#tr)"/>
<ellipse cx="327.3" cy="606.8" rx="4.46" ry="5.14" fill="url(#tr)"/>
<ellipse cx="328.5" cy="606.4" rx="4.46" ry="5.14" fill="url(#tr)"/>
<ellipse cx="329.6" cy="605.9" rx="4.46" ry="5.14" fill="url(#tr)"/>
<ellipse cx="330.8" cy="605.5" rx="4.46" ry="5.14" fill="url(#tr)"/>
<ellipse cx="331.9" cy="605.1" rx="4.46" ry="5.14" fill="url(#tr)"/>
<ellipse cx="333.1" cy="604.6" rx="4.46" ry="5.14" fill="url(#tr)"/>
<ellipse cx="334.2" cy="604.2" rx="4.46" ry="5.14" fill="url(#tr)"/>
<ellipse cx="335.4" cy="603.8" rx="4.46" ry="5.14" fill="url(#tr)"/>
<ellipse cx="336.5" cy="603.3" rx="4.46" ry="5.14" fill="url(#tr)"/>
<ellipse cx="337.7" cy="602.9" rx="4.46" ry="5.14" fill="url(#tr)"/>
<ellipse cx="338.8" cy="602.4" rx="4.46" ry="5.14" fill="url(#tr)"/>
<ellipse cx="340.0" cy="602.0" rx="4.46" ry="5.14" fill="url(#tr)"/>
<ellipse cx="341.2" cy="601.5" rx="4.46" ry="5.14" fill="url(#tr)"/>
<ellipse cx="342.5" cy="601.0" rx="4.46" ry="5.14" fill="url(#tr)"/>
<ellipse cx="343.8" cy="600.5" rx="4.46" ry="5.14" fill="url(#tr)"/>
<ellipse cx="345.0" cy="600.0" rx="4.46" ry="5.14" fill="url(#tr)"/>
<ellipse cx="346.2" cy="599.5" rx="4.46" ry="5.14" fill="url(#tr)"/>
<ellipse cx="347.5" cy="599.0" rx="4.46" ry="5.14" fill="url(#tr)"/>
<ellipse cx="348.8" cy="598.5" rx="4.46" ry="5.14" fill="url(#tr)"/>
<ellipse cx="350.0" cy="598.0" rx="4.46" ry="5.14" fill="url(#tr)"/>
<ellipse cx="351.1" cy="597.5" rx="4.46" ry="5.14" fill="url(#tr)"/>
<ellipse cx="352.2" cy="597.0" rx="4.46" ry="5.14" fill="url(#tr)"/>
<ellipse cx="353.3" cy="596.5" rx="4.46" ry="5.14" fill="url(#tr)"/>
<ellipse cx="354.4" cy="596.0" rx="4.46" ry="5.14" fill="url(#tr)"/>
<ellipse cx="355.6" cy="595.5" rx="4.46" ry="5.14" fill="url(#tr)"/>
<ellipse cx="356.7" cy="595.0" rx="4.46" ry="5.14" fill="url(#tr)"/>
<ellipse cx="357.8" cy="594.5" rx="4.46" ry="5.14" fill="url(#tr)"/>
<ellipse cx="358.9" cy="594.0" rx="4.46" ry="5.14" fill="url(#tr)"/>
<ellipse cx="360.0" cy="593.5" rx="4.46" ry="5.14" fill="url(#tr)"/>
<ellipse cx="361.2" cy="593.0" rx="4.46" ry="5.14" fill="url(#tr)"/>
<ellipse cx="362.5" cy="592.5" rx="4.46" ry="5.14" fill="url(#tr)"/>
<ellipse cx="363.8" cy="592.0" rx="4.46" ry="5.14" fill="url(#tr)"/>
<ellipse cx="365.0" cy="591.5" rx="4.46" ry="5.14" fill="url(#tr)"/>
<ellipse cx="366.2" cy="591.0" rx="4.46" ry="5.14" fill="url(#tr)"/>
<ellipse cx="367.5" cy="590.5" rx="4.46" ry="5.14" fill="url(#tr)"/>
<ellipse cx="368.8" cy="590.0" rx="4.46" ry="5.14" fill="url(#tr)"/>
<ellipse cx="370.0" cy="589.5" rx="4.46" ry="5.14" fill="url(#tr)"/>
<ellipse cx="371.2" cy="589.1" rx="4.46" ry="5.14" fill="url(#tr)"/>
<ellipse cx="372.3" cy="588.7" rx="4.46" ry="5.14" fill="url(#tr)"/>
<ellipse cx="373.5" cy="588.2" rx="4.46" ry="5.14" fill="url(#tr)"/>
<ellipse cx="374.6" cy="587.8" rx="4.46" ry="5.14" fill="url(#tr)"/>
<ellipse cx="375.8" cy="587.4" rx="4.46" ry="5.14" fill="url(#tr)"/>
<ellipse cx="376.9" cy="587.0" rx="4.46" ry="5.14" fill="url(#tr)"/>
<ellipse cx="378.1" cy="586.5" rx="4.46" ry="5.14" fill="url(#tr)"/>
<ellipse cx="379.2" cy="586.1" rx="4.46" ry="5.14" fill="url(#tr)"/>
<ellipse cx="380.4" cy="585.7" rx="4.46" ry="5.14" fill="url(#tr)"/>
<ellipse cx="381.5" cy="585.3" rx="4.46" ry="5.14" fill="url(#tr)"/>
<ellipse cx="382.7" cy="584.8" rx="4.46" ry="5.14" fill="url(#tr)"/>
<ellipse cx="383.8" cy="584.4" rx="4.46" ry="5.14" fill="url(#tr)"/>
<ellipse cx="385.0" cy="584.0" rx="4.46" ry="5.14" fill="url(#tr)"/>
<ellipse cx="386.2" cy="583.4" rx="4.46" ry="5.14" fill="url(#tr)"/>
<ellipse cx="387.3" cy="582.8" rx="4.46" ry="5.14" fill="url(#tr)"/>
<ellipse cx="388.5" cy="582.2" rx="4.46" ry="5.14" fill="url(#tr)"/>
<ellipse cx="389.7" cy="581.7" rx="4.46" ry="5.14" fill="url(#tr)"/>
<ellipse cx="390.8" cy="581.1" rx="4.46" ry="5.14" fill="url(#tr)"/>
<ellipse cx="392.0" cy="580.5" rx="4.46" ry="5.14" fill="url(#tr)"/>
<ellipse cx="393.5" cy="579.6" rx="4.46" ry="5.14" fill="url(#tr)"/>
<ellipse cx="395.0" cy="578.8" rx="4.46" ry="5.14" fill="url(#tr)"/>
<ellipse cx="395.9" cy="577.8" rx="4.46" ry="5.14" fill="url(#tr)"/>
<ellipse cx="396.8" cy="576.9" rx="4.46" ry="5.14" fill="url(#tr)"/>
<ellipse cx="397.6" cy="576.0" rx="4.46" ry="5.14" fill="url(#tr)"/>
<ellipse cx="398.5" cy="575.0" rx="4.46" ry="5.14" fill="url(#tr)"/>
<ellipse cx="398.5" cy="575.0" rx="4.80" ry="5.57" fill="url(#gr)"/>
<circle cx="117.2" cy="412.8" r="5.1" fill="#f21010"/>
<ellipse cx="125.0" cy="720.0" rx="4.30" ry="4.99" fill="url(#gb)"/>
<ellipse cx="127.5" cy="686.0" rx="4.30" ry="4.99" fill="url(#gb)"/>
<ellipse cx="131.0" cy="685.5" rx="4.30" ry="4.99" fill="url(#gb)"/>
<ellipse cx="126.9" cy="673.1" rx="4.30" ry="4.99" fill="url(#gb)"/>
<ellipse cx="126.9" cy="680.0" rx="4.30" ry="4.99" fill="url(#gb)"/>
<ellipse cx="124.6" cy="683.5" rx="4.30" ry="4.99" fill="url(#gb)"/>
<ellipse cx="131.5" cy="677.7" rx="4.30" ry="4.99" fill="url(#gb)"/>
<ellipse cx="133.8" cy="682.3" rx="4.30" ry="4.99" fill="url(#gb)"/>
<ellipse cx="128.6" cy="680.6" rx="4.30" ry="4.99" fill="url(#gb)"/>
<ellipse cx="137.3" cy="674.2" rx="4.30" ry="4.99" fill="url(#gb)"/>
<ellipse cx="139.6" cy="676.5" rx="4.30" ry="4.99" fill="url(#gb)"/>
<ellipse cx="134.1" cy="682.5" rx="4.30" ry="4.99" fill="url(#gb)"/>
<ellipse cx="132.3" cy="677.8" rx="4.30" ry="4.99" fill="url(#gb)"/>
<ellipse cx="139.2" cy="663.0" rx="4.09" ry="4.71" fill="url(#tb)"/>
<ellipse cx="139.3" cy="661.5" rx="4.09" ry="4.71" fill="url(#tb)"/>
<ellipse cx="139.4" cy="660.0" rx="4.09" ry="4.71" fill="url(#tb)"/>
<ellipse cx="139.5" cy="658.5" rx="4.09" ry="4.71" fill="url(#tb)"/>
<ellipse cx="140.0" cy="657.2" rx="4.09" ry="4.71" fill="url(#tb)"/>
<ellipse cx="140.5" cy="655.8" rx="4.09" ry="4.71" fill="url(#tb)"/>
<ellipse cx="141.0" cy="654.5" rx="4.09" ry="4.71" fill="url(#tb)"/>
<ellipse cx="141.7" cy="653.3" rx="4.09" ry="4.71" fill="url(#tb)"/>
<ellipse cx="142.3" cy="652.2" rx="4.09" ry="4.71" fill="url(#tb)"/>
<ellipse cx="143.0" cy="651.0" rx="4.09" ry="4.71" fill="url(#tb)"/>
<ellipse cx="143.7" cy="649.9" rx="4.09" ry="4.71" fill="url(#tb)"/>
<ellipse cx="144.3" cy="648.9" rx="4.09" ry="4.71" fill="url(#tb)"/>
<ellipse cx="145.0" cy="647.8" rx="4.09" ry="4.71" fill="url(#tb)"/>
<ellipse cx="146.0" cy="646.7" rx="4.09" ry="4.71" fill="url(#tb)"/>
<ellipse cx="147.0" cy="645.5" rx="4.09" ry="4.71" fill="url(#tb)"/>
<ellipse cx="148.0" cy="644.4" rx="4.09" ry="4.71" fill="url(#tb)"/>
<ellipse cx="149.0" cy="643.5" rx="4.09" ry="4.71" fill="url(#tb)"/>
<ellipse cx="150.0" cy="642.6" rx="4.09" ry="4.71" fill="url(#tb)"/>
<ellipse cx="151.0" cy="641.9" rx="4.09" ry="4.71" fill="url(#tb)"/>
<ellipse cx="152.0" cy="641.2" rx="4.09" ry="4.71" fill="url(#tb)"/>
<ellipse cx="153.0" cy="640.5" rx="4.09" ry="4.71" fill="url(#tb)"/>
<ellipse cx="154.0" cy="639.8" rx="4.09" ry="4.71" fill="url(#tb)"/>
<ellipse cx="155.0" cy="639.1" rx="4.09" ry="4.71" fill="url(#tb)"/>
<ellipse cx="156.2" cy="638.5" rx="4.09" ry="4.71" fill="url(#tb)"/>
<ellipse cx="157.5" cy="637.9" rx="4.09" ry="4.71" fill="url(#tb)"/>
<ellipse cx="158.8" cy="637.2" rx="4.09" ry="4.71" fill="url(#tb)"/>
<ellipse cx="160.0" cy="636.6" rx="4.09" ry="4.71" fill="url(#tb)"/>
<ellipse cx="161.2" cy="635.9" rx="4.09" ry="4.71" fill="url(#tb)"/>
<ellipse cx="162.5" cy="635.2" rx="4.09" ry="4.71" fill="url(#tb)"/>
<ellipse cx="163.8" cy="634.6" rx="4.09" ry="4.71" fill="url(#tb)"/>
<ellipse cx="165.0" cy="633.9" rx="4.09" ry="4.71" fill="url(#tb)"/>
<ellipse cx="166.2" cy="633.6" rx="4.09" ry="4.71" fill="url(#tb)"/>
<ellipse cx="167.3" cy="633.2" rx="4.09" ry="4.71" fill="url(#tb)"/>
<ellipse cx="168.5" cy="632.9" rx="4.09" ry="4.71" fill="url(#tb)"/>
<ellipse cx="169.6" cy="632.6" rx="4.09" ry="4.71" fill="url(#tb)"/>
<ellipse cx="170.8" cy="632.2" rx="4.09" ry="4.71" fill="url(#tb)"/>
<ellipse cx="171.9" cy="631.9" rx="4.09" ry="4.71" fill="url(#tb)"/>
<ellipse cx="173.1" cy="631.6" rx="4.09" ry="4.71" fill="url(#tb)"/>
<ellipse cx="174.2" cy="631.3" rx="4.09" ry="4.71" fill="url(#tb)"/>
<ellipse cx="175.4" cy="630.9" rx="4.09" ry="4.71" fill="url(#tb)"/>
<ellipse cx="176.5" cy="630.6" rx="4.09" ry="4.71" fill="url(#tb)"/>
<ellipse cx="177.7" cy="630.3" rx="4.09" ry="4.71" fill="url(#tb)"/>
<ellipse cx="178.8" cy="629.9" rx="4.09" ry="4.71" fill="url(#tb)"/>
<ellipse cx="180.0" cy="629.6" rx="4.09" ry="4.71" fill="url(#tb)"/>
<ellipse cx="181.2" cy="629.3" rx="4.09" ry="4.71" fill="url(#tb)"/>
<ellipse cx="182.5" cy="628.9" rx="4.09" ry="4.71" fill="url(#tb)"/>
<ellipse cx="183.8" cy="628.6" rx="4.09" ry="4.71" fill="url(#tb)"/>
<ellipse cx="185.0" cy="628.3" rx="4.09" ry="4.71" fill="url(#tb)"/>
<ellipse cx="186.2" cy="627.9" rx="4.09" ry="4.71" fill="url(#tb)"/>
<ellipse cx="187.5" cy="627.6" rx="4.09" ry="4.71" fill="url(#tb)"/>
<ellipse cx="188.8" cy="627.3" rx="4.09" ry="4.71" fill="url(#tb)"/>
<ellipse cx="190.0" cy="626.9" rx="4.09" ry="4.71" fill="url(#tb)"/>
<ellipse cx="191.2" cy="626.6" rx="4.09" ry="4.71" fill="url(#tb)"/>
<ellipse cx="192.5" cy="626.3" rx="4.09" ry="4.71" fill="url(#tb)"/>
<ellipse cx="193.8" cy="625.9" rx="4.09" ry="4.71" fill="url(#tb)"/>
<ellipse cx="195.0" cy="625.6" rx="4.09" ry="4.71" fill="url(#tb)"/>
<ellipse cx="196.2" cy="625.2" rx="4.09" ry="4.71" fill="url(#tb)"/>
<ellipse cx="197.3" cy="624.9" rx="4.09" ry="4.71" fill="url(#tb)"/>
<ellipse cx="198.5" cy="624.5" rx="4.09" ry="4.71" fill="url(#tb)"/>
<ellipse cx="199.6" cy="624.2" rx="4.09" ry="4.71" fill="url(#tb)"/>
<ellipse cx="200.8" cy="623.8" rx="4.09" ry="4.71" fill="url(#tb)"/>
<ellipse cx="201.9" cy="623.4" rx="4.09" ry="4.71" fill="url(#tb)"/>
<ellipse cx="203.1" cy="623.1" rx="4.09" ry="4.71" fill="url(#tb)"/>
<ellipse cx="204.2" cy="622.7" rx="4.09" ry="4.71" fill="url(#tb)"/>
<ellipse cx="205.4" cy="622.3" rx="4.09" ry="4.71" fill="url(#tb)"/>
<ellipse cx="206.5" cy="622.0" rx="4.09" ry="4.71" fill="url(#tb)"/>
<ellipse cx="207.7" cy="621.6" rx="4.09" ry="4.71" fill="url(#tb)"/>
<ellipse cx="208.8" cy="621.3" rx="4.09" ry="4.71" fill="url(#tb)"/>
<ellipse cx="210.0" cy="620.9" rx="4.09" ry="4.71" fill="url(#tb)"/>
<ellipse cx="211.2" cy="620.5" rx="4.09" ry="4.71" fill="url(#tb)"/>
<ellipse cx="212.3" cy="620.2" rx="4.09" ry="4.71" fill="url(#tb)"/>
<ellipse cx="213.5" cy="619.8" rx="4.09" ry="4.71" fill="url(#tb)"/>
<ellipse cx="214.6" cy="619.4" rx="4.09" ry="4.71" fill="url(#tb)"/>
<ellipse cx="215.8" cy="619.1" rx="4.09" ry="4.71" fill="url(#tb)"/>
<ellipse cx="216.9" cy="618.7" rx="4.09" ry="4.71" fill="url(#tb)"/>
<ellipse cx="218.1" cy="618.3" rx="4.09" ry="4.71" fill="url(#tb)"/>
<ellipse cx="219.2" cy="617.9" rx="4.09" ry="4.71" fill="url(#tb)"/>
<ellipse cx="220.4" cy="617.6" rx="4.09" ry="4.71" fill="url(#tb)"/>
<ellipse cx="221.5" cy="617.2" rx="4.09" ry="4.71" fill="url(#tb)"/>
<ellipse cx="222.7" cy="616.8" rx="4.09" ry="4.71" fill="url(#tb)"/>
<ellipse cx="223.8" cy="616.5" rx="4.09" ry="4.71" fill="url(#tb)"/>
<ellipse cx="225.0" cy="616.1" rx="4.09" ry="4.71" fill="url(#tb)"/>
<ellipse cx="226.2" cy="615.9" rx="4.09" ry="4.71" fill="url(#tb)"/>
<ellipse cx="227.5" cy="615.6" rx="4.09" ry="4.71" fill="url(#tb)"/>
<ellipse cx="228.8" cy="615.4" rx="4.09" ry="4.71" fill="url(#tb)"/>
<ellipse cx="230.0" cy="615.1" rx="4.09" ry="4.71" fill="url(#tb)"/>
<ellipse cx="231.2" cy="614.9" rx="4.09" ry="4.71" fill="url(#tb)"/>
<ellipse cx="232.5" cy="614.6" rx="4.09" ry="4.71" fill="url(#tb)"/>
<ellipse cx="233.8" cy="614.4" rx="4.09" ry="4.71" fill="url(#tb)"/>
<ellipse cx="235.0" cy="614.1" rx="4.09" ry="4.71" fill="url(#tb)"/>
<ellipse cx="236.2" cy="613.9" rx="4.09" ry="4.71" fill="url(#tb)"/>
<ellipse cx="237.5" cy="613.7" rx="4.09" ry="4.71" fill="url(#tb)"/>
<ellipse cx="238.8" cy="613.5" rx="4.09" ry="4.71" fill="url(#tb)"/>
<ellipse cx="240.0" cy="613.2" rx="4.09" ry="4.71" fill="url(#tb)"/>
<ellipse cx="241.2" cy="613.0" rx="4.09" ry="4.71" fill="url(#tb)"/>
<ellipse cx="242.5" cy="612.8" rx="4.09" ry="4.71" fill="url(#tb)"/>
<ellipse cx="243.8" cy="612.6" rx="4.09" ry="4.71" fill="url(#tb)"/>
<ellipse cx="245.0" cy="612.4" rx="4.09" ry="4.71" fill="url(#tb)"/>
<ellipse cx="246.2" cy="612.2" rx="4.09" ry="4.71" fill="url(#tb)"/>
<ellipse cx="247.5" cy="612.1" rx="4.09" ry="4.71" fill="url(#tb)"/>
<ellipse cx="248.8" cy="611.9" rx="4.09" ry="4.71" fill="url(#tb)"/>
<ellipse cx="250.0" cy="611.7" rx="4.09" ry="4.71" fill="url(#tb)"/>
<ellipse cx="251.2" cy="611.6" rx="4.09" ry="4.71" fill="url(#tb)"/>
<ellipse cx="252.5" cy="611.4" rx="4.09" ry="4.71" fill="url(#tb)"/>
<ellipse cx="253.8" cy="611.2" rx="4.09" ry="4.71" fill="url(#tb)"/>
<ellipse cx="255.0" cy="611.1" rx="4.09" ry="4.71" fill="url(#tb)"/>
<ellipse cx="256.2" cy="610.9" rx="4.09" ry="4.71" fill="url(#tb)"/>
<ellipse cx="257.5" cy="610.7" rx="4.09" ry="4.71" fill="url(#tb)"/>
<ellipse cx="258.8" cy="610.6" rx="4.09" ry="4.71" fill="url(#tb)"/>
<ellipse cx="260.0" cy="610.4" rx="4.09" ry="4.71" fill="url(#tb)"/>
<ellipse cx="261.2" cy="610.2" rx="4.09" ry="4.71" fill="url(#tb)"/>
<ellipse cx="262.5" cy="609.9" rx="4.09" ry="4.71" fill="url(#tb)"/>
<ellipse cx="263.8" cy="609.7" rx="4.09" ry="4.71" fill="url(#tb)"/>
<ellipse cx="265.0" cy="609.4" rx="4.09" ry="4.71" fill="url(#tb)"/>
<ellipse cx="266.2" cy="609.2" rx="4.09" ry="4.71" fill="url(#tb)"/>
<ellipse cx="267.5" cy="609.0" rx="4.09" ry="4.71" fill="url(#tb)"/>
<ellipse cx="268.8" cy="608.7" rx="4.09" ry="4.71" fill="url(#tb)"/>
<ellipse cx="270.0" cy="608.5" rx="4.09" ry="4.71" fill="url(#tb)"/>
<ellipse cx="271.2" cy="608.2" rx="4.09" ry="4.71" fill="url(#tb)"/>
<ellipse cx="272.5" cy="608.0" rx="4.09" ry="4.71" fill="url(#tb)"/>
<ellipse cx="273.8" cy="607.7" rx="4.09" ry="4.71" fill="url(#tb)"/>
<ellipse cx="275.0" cy="607.5" rx="4.09" ry="4.71" fill="url(#tb)"/>
<ellipse cx="276.2" cy="607.4" rx="4.09" ry="4.71" fill="url(#tb)"/>
<ellipse cx="277.5" cy="607.2" rx="4.09" ry="4.71" fill="url(#tb)"/>
<ellipse cx="278.8" cy="607.1" rx="4.09" ry="4.71" fill="url(#tb)"/>
<ellipse cx="280.0" cy="607.0" rx="4.09" ry="4.71" fill="url(#tb)"/>
<ellipse cx="281.2" cy="606.9" rx="4.09" ry="4.71" fill="url(#tb)"/>
<ellipse cx="282.5" cy="606.8" rx="4.09" ry="4.71" fill="url(#tb)"/>
<ellipse cx="283.8" cy="606.6" rx="4.09" ry="4.71" fill="url(#tb)"/>
<ellipse cx="285.0" cy="606.5" rx="4.09" ry="4.71" fill="url(#tb)"/>
<ellipse cx="286.2" cy="606.4" rx="4.09" ry="4.71" fill="url(#tb)"/>
<ellipse cx="287.5" cy="606.2" rx="4.09" ry="4.71" fill="url(#tb)"/>
<ellipse cx="288.8" cy="606.1" rx="4.09" ry="4.71" fill="url(#tb)"/>
<ellipse cx="290.0" cy="606.0" rx="4.09" ry="4.71" fill="url(#tb)"/>
<ellipse cx="291.2" cy="605.7" rx="4.09" ry="4.71" fill="url(#tb)"/>
<ellipse cx="292.5" cy="605.5" rx="4.09" ry="4.71" fill="url(#tb)"/>
<ellipse cx="293.8" cy="605.2" rx="4.09" ry="4.71" fill="url(#tb)"/>
<ellipse cx="295.0" cy="604.9" rx="4.09" ry="4.71" fill="url(#tb)"/>
<ellipse cx="296.2" cy="604.6" rx="4.09" ry="4.71" fill="url(#tb)"/>
<ellipse cx="297.5" cy="604.4" rx="4.09" ry="4.71" fill="url(#tb)"/>
<ellipse cx="298.8" cy="604.1" rx="4.09" ry="4.71" fill="url(#tb)"/>
<ellipse cx="300.0" cy="603.8" rx="4.09" ry="4.71" fill="url(#tb)"/>
<ellipse cx="301.2" cy="603.5" rx="4.09" ry="4.71" fill="url(#tb)"/>
<ellipse cx="302.5" cy="603.2" rx="4.09" ry="4.71" fill="url(#tb)"/>
<ellipse cx="303.8" cy="603.0" rx="4.09" ry="4.71" fill="url(#tb)"/>
<ellipse cx="305.0" cy="602.7" rx="4.09" ry="4.71" fill="url(#tb)"/>
<ellipse cx="306.2" cy="602.6" rx="4.09" ry="4.71" fill="url(#tb)"/>
<ellipse cx="307.5" cy="602.5" rx="4.09" ry="4.71" fill="url(#tb)"/>
<ellipse cx="308.8" cy="602.3" rx="4.09" ry="4.71" fill="url(#tb)"/>
<ellipse cx="310.0" cy="602.2" rx="4.09" ry="4.71" fill="url(#tb)"/>
<ellipse cx="311.2" cy="602.1" rx="4.09" ry="4.71" fill="url(#tb)"/>
<ellipse cx="312.5" cy="602.0" rx="4.09" ry="4.71" fill="url(#tb)"/>
<ellipse cx="313.8" cy="601.9" rx="4.09" ry="4.71" fill="url(#tb)"/>
<ellipse cx="315.0" cy="601.8" rx="4.09" ry="4.71" fill="url(#tb)"/>
<ellipse cx="316.2" cy="601.6" rx="4.09" ry="4.71" fill="url(#tb)"/>
<ellipse cx="317.5" cy="601.5" rx="4.09" ry="4.71" fill="url(#tb)"/>
<ellipse cx="318.8" cy="601.4" rx="4.09" ry="4.71" fill="url(#tb)"/>
<ellipse cx="320.0" cy="601.3" rx="4.09" ry="4.71" fill="url(#tb)"/>
<ellipse cx="321.2" cy="601.2" rx="4.09" ry="4.71" fill="url(#tb)"/>
<ellipse cx="322.5" cy="601.0" rx="4.09" ry="4.71" fill="url(#tb)"/>
<ellipse cx="323.8" cy="600.9" rx="4.09" ry="4.71" fill="url(#tb)"/>
<ellipse cx="325.0" cy="600.8" rx="4.09" ry="4.71" fill="url(#tb)"/>
<ellipse cx="326.2" cy="600.6" rx="4.09" ry="4.71" fill="url(#tb)"/>
<ellipse cx="327.5" cy="600.4" rx="4.09" ry="4.71" fill="url(#tb)"/>
<ellipse cx="328.8" cy="600.1" rx="4.09" ry="4.71" fill="url(#tb)"/>
<ellipse cx="330.0" cy="599.9" rx="4.09" ry="4.71" fill="url(#tb)"/>
<ellipse cx="331.2" cy="599.7" rx="4.09" ry="4.71" fill="url(#tb)"/>
<ellipse cx="332.5" cy="599.5" rx="4.09" ry="4.71" fill="url(#tb)"/>
<ellipse cx="333.8" cy="599.3" rx="4.09" ry="4.71" fill="url(#tb)"/>
<ellipse cx="335.0" cy="599.1" rx="4.09" ry="4.71" fill="url(#tb)"/>
<ellipse cx="336.2" cy="598.9" rx="4.09" ry="4.71" fill="url(#tb)"/>
<ellipse cx="337.5" cy="598.6" rx="4.09" ry="4.71" fill="url(#tb)"/>
<ellipse cx="338.8" cy="598.4" rx="4.09" ry="4.71" fill="url(#tb)"/>
<ellipse cx="340.0" cy="598.2" rx="4.09" ry="4.71" fill="url(#tb)"/>
<ellipse cx="341.2" cy="598.1" rx="4.09" ry="4.71" fill="url(#tb)"/>
<ellipse cx="342.5" cy="597.9" rx="4.09" ry="4.71" fill="url(#tb)"/>
<ellipse cx="343.8" cy="597.8" rx="4.09" ry="4.71" fill="url(#tb)"/>
<ellipse cx="345.0" cy="597.7" rx="4.09" ry="4.71" fill="url(#tb)"/>
<ellipse cx="346.2" cy="597.5" rx="4.09" ry="4.71" fill="url(#tb)"/>
<ellipse cx="347.5" cy="597.4" rx="4.09" ry="4.71" fill="url(#tb)"/>
<ellipse cx="348.8" cy="597.2" rx="4.09" ry="4.71" fill="url(#tb)"/>
<ellipse cx="350.0" cy="597.1" rx="4.09" ry="4.71" fill="url(#tb)"/>
<ellipse cx="351.2" cy="597.0" rx="4.09" ry="4.71" fill="url(#tb)"/>
<ellipse cx="352.5" cy="596.8" rx="4.09" ry="4.71" fill="url(#tb)"/>
<ellipse cx="353.8" cy="596.7" rx="4.09" ry="4.71" fill="url(#tb)"/>
<ellipse cx="355.0" cy="596.5" rx="4.09" ry="4.71" fill="url(#tb)"/>
<ellipse cx="356.2" cy="596.4" rx="4.09" ry="4.71" fill="url(#tb)"/>
<ellipse cx="357.5" cy="596.3" rx="4.09" ry="4.71" fill="url(#tb)"/>
<ellipse cx="358.8" cy="596.1" rx="4.09" ry="4.71" fill="url(#tb)"/>
<ellipse cx="360.0" cy="596.0" rx="4.09" ry="4.71" fill="url(#tb)"/>
<ellipse cx="361.2" cy="595.7" rx="4.09" ry="4.71" fill="url(#tb)"/>
<ellipse cx="362.5" cy="595.5" rx="4.09" ry="4.71" fill="url(#tb)"/>
<ellipse cx="363.8" cy="595.2" rx="4.09" ry="4.71" fill="url(#tb)"/>
<ellipse cx="365.0" cy="594.9" rx="4.09" ry="4.71" fill="url(#tb)"/>
<ellipse cx="366.2" cy="594.6" rx="4.09" ry="4.71" fill="url(#tb)"/>
<ellipse cx="367.5" cy="594.3" rx="4.09" ry="4.71" fill="url(#tb)"/>
<ellipse cx="368.8" cy="594.1" rx="4.09" ry="4.71" fill="url(#tb)"/>
<ellipse cx="370.0" cy="593.8" rx="4.09" ry="4.71" fill="url(#tb)"/>
<ellipse cx="371.2" cy="593.7" rx="4.09" ry="4.71" fill="url(#tb)"/>
<ellipse cx="372.5" cy="593.5" rx="4.09" ry="4.71" fill="url(#tb)"/>
<ellipse cx="373.8" cy="593.4" rx="4.09" ry="4.71" fill="url(#tb)"/>
<ellipse cx="375.0" cy="593.3" rx="4.09" ry="4.71" fill="url(#tb)"/>
<ellipse cx="376.2" cy="593.1" rx="4.09" ry="4.71" fill="url(#tb)"/>
<ellipse cx="377.5" cy="593.0" rx="4.09" ry="4.71" fill="url(#tb)"/>
<ellipse cx="378.8" cy="592.9" rx="4.09" ry="4.71" fill="url(#tb)"/>
<ellipse cx="380.0" cy="592.7" rx="4.09" ry="4.71" fill="url(#tb)"/>
<ellipse cx="381.2" cy="592.6" rx="4.09" ry="4.71" fill="url(#tb)"/>
<ellipse cx="382.5" cy="592.5" rx="4.09" ry="4.71" fill="url(#tb)"/>
<ellipse cx="383.8" cy="592.3" rx="4.09" ry="4.71" fill="url(#tb)"/>
<ellipse cx="385.0" cy="592.2" rx="4.09" ry="4.71" fill="url(#tb)"/>
<ellipse cx="386.2" cy="592.0" rx="4.09" ry="4.71" fill="url(#tb)"/>
<ellipse cx="387.5" cy="591.9" rx="4.09" ry="4.71" fill="url(#tb)"/>
<ellipse cx="388.8" cy="591.7" rx="4.09" ry="4.71" fill="url(#tb)"/>
<ellipse cx="390.0" cy="591.5" rx="4.09" ry="4.71" fill="url(#tb)"/>
<ellipse cx="391.2" cy="591.4" rx="4.09" ry="4.71" fill="url(#tb)"/>
<ellipse cx="392.5" cy="591.2" rx="4.09" ry="4.71" fill="url(#tb)"/>
<ellipse cx="393.8" cy="591.0" rx="4.09" ry="4.71" fill="url(#tb)"/>
<ellipse cx="395.0" cy="590.9" rx="4.09" ry="4.71" fill="url(#tb)"/>
<ellipse cx="396.2" cy="590.7" rx="4.09" ry="4.71" fill="url(#tb)"/>
<ellipse cx="397.5" cy="590.5" rx="4.09" ry="4.71" fill="url(#tb)"/>
<ellipse cx="398.8" cy="590.4" rx="4.09" ry="4.71" fill="url(#tb)"/>
<ellipse cx="400.0" cy="590.2" rx="4.09" ry="4.71" fill="url(#tb)"/>
<ellipse cx="401.2" cy="590.1" rx="4.09" ry="4.71" fill="url(#tb)"/>
<ellipse cx="402.5" cy="589.9" rx="4.09" ry="4.71" fill="url(#tb)"/>
<ellipse cx="403.8" cy="589.8" rx="4.09" ry="4.71" fill="url(#tb)"/>
<ellipse cx="405.0" cy="589.7" rx="4.09" ry="4.71" fill="url(#tb)"/>
<ellipse cx="406.2" cy="589.5" rx="4.09" ry="4.71" fill="url(#tb)"/>
<ellipse cx="407.5" cy="589.4" rx="4.09" ry="4.71" fill="url(#tb)"/>
<ellipse cx="408.8" cy="589.3" rx="4.09" ry="4.71" fill="url(#tb)"/>
<ellipse cx="410.0" cy="589.1" rx="4.09" ry="4.71" fill="url(#tb)"/>
<ellipse cx="411.2" cy="589.0" rx="4.09" ry="4.71" fill="url(#tb)"/>
<ellipse cx="412.5" cy="588.9" rx="4.09" ry="4.71" fill="url(#tb)"/>
<ellipse cx="413.8" cy="588.7" rx="4.09" ry="4.71" fill="url(#tb)"/>
<ellipse cx="415.0" cy="588.6" rx="4.09" ry="4.71" fill="url(#tb)"/>
<ellipse cx="416.2" cy="588.5" rx="4.09" ry="4.71" fill="url(#tb)"/>
<ellipse cx="417.5" cy="588.3" rx="4.09" ry="4.71" fill="url(#tb)"/>
<ellipse cx="418.8" cy="588.1" rx="4.09" ry="4.71" fill="url(#tb)"/>
<ellipse cx="420.0" cy="588.0" rx="4.09" ry="4.71" fill="url(#tb)"/>
<ellipse cx="421.2" cy="587.9" rx="4.09" ry="4.71" fill="url(#tb)"/>
<ellipse cx="422.5" cy="587.7" rx="4.09" ry="4.71" fill="url(#tb)"/>
<ellipse cx="423.8" cy="587.5" rx="4.09" ry="4.71" fill="url(#tb)"/>
<ellipse cx="425.0" cy="587.4" rx="4.09" ry="4.71" fill="url(#tb)"/>
<ellipse cx="426.4" cy="587.1" rx="4.09" ry="4.71" fill="url(#tb)"/>
<ellipse cx="427.8" cy="586.9" rx="4.09" ry="4.71" fill="url(#tb)"/>
<ellipse cx="429.2" cy="586.6" rx="4.09" ry="4.71" fill="url(#tb)"/>
<ellipse cx="430.6" cy="586.4" rx="4.09" ry="4.71" fill="url(#tb)"/>
<ellipse cx="432.0" cy="586.1" rx="4.09" ry="4.71" fill="url(#tb)"/>
<ellipse cx="433.1" cy="585.7" rx="4.09" ry="4.71" fill="url(#tb)"/>
<ellipse cx="434.3" cy="585.3" rx="4.09" ry="4.71" fill="url(#tb)"/>
<ellipse cx="435.4" cy="584.9" rx="4.09" ry="4.71" fill="url(#tb)"/>
<ellipse cx="436.6" cy="584.5" rx="4.09" ry="4.71" fill="url(#tb)"/>
<ellipse cx="437.7" cy="584.1" rx="4.09" ry="4.71" fill="url(#tb)"/>
<ellipse cx="438.9" cy="583.7" rx="4.09" ry="4.71" fill="url(#tb)"/>
<ellipse cx="440.0" cy="583.3" rx="4.09" ry="4.71" fill="url(#tb)"/>
<ellipse cx="441.2" cy="582.5" rx="4.09" ry="4.71" fill="url(#tb)"/>
<ellipse cx="442.4" cy="581.7" rx="4.09" ry="4.71" fill="url(#tb)"/>
<ellipse cx="443.6" cy="580.9" rx="4.09" ry="4.71" fill="url(#tb)"/>
<ellipse cx="444.8" cy="580.1" rx="4.09" ry="4.71" fill="url(#tb)"/>
<ellipse cx="444.8" cy="580.5" rx="4.80" ry="5.57" fill="url(#gb)"/>
<ellipse cx="139.0" cy="663.5" rx="4.30" ry="4.99" fill="url(#gb)"/>
<ellipse cx="139.3" cy="656.0" rx="4.30" ry="4.99" fill="url(#gb)"/>
<ellipse cx="411.0" cy="412.8" rx="4.30" ry="4.99" fill="url(#gb)"/>
</g>
<path d="M407.7,653.8 L441.3,653.8" fill="none" stroke="#8a8a8a" stroke-width="1.3" stroke-dasharray="1.4 1.6"/>
<ellipse cx="424.6" cy="654.0" rx="4.5" ry="5.1" fill="url(#gk)"/>
<text x="484.80" y="659.20" font-size="13.8" text-anchor="end" font-weight="bold" fill="#000" stroke="#000" stroke-width="0.3" >5 &#181;m</text>
<path d="M407.7,675.6 L441.3,675.6" fill="none" stroke="#e09090" stroke-width="1.3" stroke-dasharray="1.4 1.6"/>
<ellipse cx="424.6" cy="675.8" rx="4.5" ry="5.1" fill="url(#gr)"/>
<text x="484.80" y="681.00" font-size="13.8" text-anchor="end" font-weight="bold" fill="#000" stroke="#000" stroke-width="0.3" >10 &#181;m</text>
<path d="M407.7,697.4 L441.3,697.4" fill="none" stroke="#8888d8" stroke-width="1.3" stroke-dasharray="1.4 1.6"/>
<ellipse cx="424.6" cy="697.6" rx="4.5" ry="5.1" fill="url(#gb)"/>
<text x="484.80" y="702.80" font-size="13.8" text-anchor="end" font-weight="bold" fill="#000" stroke="#000" stroke-width="0.3" >20 &#181;m</text>
<rect x="115.0" y="412.6" width="388.0" height="307.9" fill="none" stroke="#141414" stroke-width="1.6"/>
<line x1="109.30" y1="720.50" x2="115.00" y2="720.50" stroke="#141414" stroke-width="1.3" />
<line x1="503.00" y1="720.50" x2="497.30" y2="720.50" stroke="#141414" stroke-width="1.3" />
<line x1="112.10" y1="707.26" x2="115.00" y2="707.26" stroke="#141414" stroke-width="1.3" />
<line x1="503.00" y1="707.26" x2="500.10" y2="707.26" stroke="#141414" stroke-width="1.3" />
<line x1="112.10" y1="699.51" x2="115.00" y2="699.51" stroke="#141414" stroke-width="1.3" />
<line x1="503.00" y1="699.51" x2="500.10" y2="699.51" stroke="#141414" stroke-width="1.3" />
<line x1="112.10" y1="694.02" x2="115.00" y2="694.02" stroke="#141414" stroke-width="1.3" />
<line x1="503.00" y1="694.02" x2="500.10" y2="694.02" stroke="#141414" stroke-width="1.3" />
<line x1="112.10" y1="689.76" x2="115.00" y2="689.76" stroke="#141414" stroke-width="1.3" />
<line x1="503.00" y1="689.76" x2="500.10" y2="689.76" stroke="#141414" stroke-width="1.3" />
<line x1="112.10" y1="686.27" x2="115.00" y2="686.27" stroke="#141414" stroke-width="1.3" />
<line x1="503.00" y1="686.27" x2="500.10" y2="686.27" stroke="#141414" stroke-width="1.3" />
<line x1="112.10" y1="683.33" x2="115.00" y2="683.33" stroke="#141414" stroke-width="1.3" />
<line x1="503.00" y1="683.33" x2="500.10" y2="683.33" stroke="#141414" stroke-width="1.3" />
<line x1="112.10" y1="680.78" x2="115.00" y2="680.78" stroke="#141414" stroke-width="1.3" />
<line x1="503.00" y1="680.78" x2="500.10" y2="680.78" stroke="#141414" stroke-width="1.3" />
<line x1="112.10" y1="678.53" x2="115.00" y2="678.53" stroke="#141414" stroke-width="1.3" />
<line x1="503.00" y1="678.53" x2="500.10" y2="678.53" stroke="#141414" stroke-width="1.3" />
<text x="0" y="0" font-size="15.6" font-weight="bold" stroke="#000" stroke-width="0.3" text-anchor="end" transform="translate(93.60,726.50) scale(0.84,1)">10</text>
<text x="0" y="0" font-size="9.6" font-weight="bold" stroke="#000" stroke-width="0.2" transform="translate(93.20,716.90) scale(0.9,1)">-10</text>
<line x1="109.30" y1="676.51" x2="115.00" y2="676.51" stroke="#141414" stroke-width="1.3" />
<line x1="503.00" y1="676.51" x2="497.30" y2="676.51" stroke="#141414" stroke-width="1.3" />
<line x1="112.10" y1="663.27" x2="115.00" y2="663.27" stroke="#141414" stroke-width="1.3" />
<line x1="503.00" y1="663.27" x2="500.10" y2="663.27" stroke="#141414" stroke-width="1.3" />
<line x1="112.10" y1="655.53" x2="115.00" y2="655.53" stroke="#141414" stroke-width="1.3" />
<line x1="503.00" y1="655.53" x2="500.10" y2="655.53" stroke="#141414" stroke-width="1.3" />
<line x1="112.10" y1="650.03" x2="115.00" y2="650.03" stroke="#141414" stroke-width="1.3" />
<line x1="503.00" y1="650.03" x2="500.10" y2="650.03" stroke="#141414" stroke-width="1.3" />
<line x1="112.10" y1="645.77" x2="115.00" y2="645.77" stroke="#141414" stroke-width="1.3" />
<line x1="503.00" y1="645.77" x2="500.10" y2="645.77" stroke="#141414" stroke-width="1.3" />
<line x1="112.10" y1="642.29" x2="115.00" y2="642.29" stroke="#141414" stroke-width="1.3" />
<line x1="503.00" y1="642.29" x2="500.10" y2="642.29" stroke="#141414" stroke-width="1.3" />
<line x1="112.10" y1="639.34" x2="115.00" y2="639.34" stroke="#141414" stroke-width="1.3" />
<line x1="503.00" y1="639.34" x2="500.10" y2="639.34" stroke="#141414" stroke-width="1.3" />
<line x1="112.10" y1="636.79" x2="115.00" y2="636.79" stroke="#141414" stroke-width="1.3" />
<line x1="503.00" y1="636.79" x2="500.10" y2="636.79" stroke="#141414" stroke-width="1.3" />
<line x1="112.10" y1="634.54" x2="115.00" y2="634.54" stroke="#141414" stroke-width="1.3" />
<line x1="503.00" y1="634.54" x2="500.10" y2="634.54" stroke="#141414" stroke-width="1.3" />
<text x="0" y="0" font-size="15.6" font-weight="bold" stroke="#000" stroke-width="0.3" text-anchor="end" transform="translate(98.60,682.51) scale(0.84,1)">10</text>
<text x="0" y="0" font-size="9.6" font-weight="bold" stroke="#000" stroke-width="0.2" transform="translate(98.20,672.91) scale(0.9,1)">-9</text>
<line x1="109.30" y1="632.53" x2="115.00" y2="632.53" stroke="#141414" stroke-width="1.3" />
<line x1="503.00" y1="632.53" x2="497.30" y2="632.53" stroke="#141414" stroke-width="1.3" />
<line x1="112.10" y1="619.29" x2="115.00" y2="619.29" stroke="#141414" stroke-width="1.3" />
<line x1="503.00" y1="619.29" x2="500.10" y2="619.29" stroke="#141414" stroke-width="1.3" />
<line x1="112.10" y1="611.54" x2="115.00" y2="611.54" stroke="#141414" stroke-width="1.3" />
<line x1="503.00" y1="611.54" x2="500.10" y2="611.54" stroke="#141414" stroke-width="1.3" />
<line x1="112.10" y1="606.05" x2="115.00" y2="606.05" stroke="#141414" stroke-width="1.3" />
<line x1="503.00" y1="606.05" x2="500.10" y2="606.05" stroke="#141414" stroke-width="1.3" />
<line x1="112.10" y1="601.78" x2="115.00" y2="601.78" stroke="#141414" stroke-width="1.3" />
<line x1="503.00" y1="601.78" x2="500.10" y2="601.78" stroke="#141414" stroke-width="1.3" />
<line x1="112.10" y1="598.30" x2="115.00" y2="598.30" stroke="#141414" stroke-width="1.3" />
<line x1="503.00" y1="598.30" x2="500.10" y2="598.30" stroke="#141414" stroke-width="1.3" />
<line x1="112.10" y1="595.36" x2="115.00" y2="595.36" stroke="#141414" stroke-width="1.3" />
<line x1="503.00" y1="595.36" x2="500.10" y2="595.36" stroke="#141414" stroke-width="1.3" />
<line x1="112.10" y1="592.81" x2="115.00" y2="592.81" stroke="#141414" stroke-width="1.3" />
<line x1="503.00" y1="592.81" x2="500.10" y2="592.81" stroke="#141414" stroke-width="1.3" />
<line x1="112.10" y1="590.56" x2="115.00" y2="590.56" stroke="#141414" stroke-width="1.3" />
<line x1="503.00" y1="590.56" x2="500.10" y2="590.56" stroke="#141414" stroke-width="1.3" />
<text x="0" y="0" font-size="15.6" font-weight="bold" stroke="#000" stroke-width="0.3" text-anchor="end" transform="translate(98.60,638.53) scale(0.84,1)">10</text>
<text x="0" y="0" font-size="9.6" font-weight="bold" stroke="#000" stroke-width="0.2" transform="translate(98.20,628.93) scale(0.9,1)">-8</text>
<line x1="109.30" y1="588.54" x2="115.00" y2="588.54" stroke="#141414" stroke-width="1.3" />
<line x1="503.00" y1="588.54" x2="497.30" y2="588.54" stroke="#141414" stroke-width="1.3" />
<line x1="112.10" y1="575.30" x2="115.00" y2="575.30" stroke="#141414" stroke-width="1.3" />
<line x1="503.00" y1="575.30" x2="500.10" y2="575.30" stroke="#141414" stroke-width="1.3" />
<line x1="112.10" y1="567.56" x2="115.00" y2="567.56" stroke="#141414" stroke-width="1.3" />
<line x1="503.00" y1="567.56" x2="500.10" y2="567.56" stroke="#141414" stroke-width="1.3" />
<line x1="112.10" y1="562.06" x2="115.00" y2="562.06" stroke="#141414" stroke-width="1.3" />
<line x1="503.00" y1="562.06" x2="500.10" y2="562.06" stroke="#141414" stroke-width="1.3" />
<line x1="112.10" y1="557.80" x2="115.00" y2="557.80" stroke="#141414" stroke-width="1.3" />
<line x1="503.00" y1="557.80" x2="500.10" y2="557.80" stroke="#141414" stroke-width="1.3" />
<line x1="112.10" y1="554.32" x2="115.00" y2="554.32" stroke="#141414" stroke-width="1.3" />
<line x1="503.00" y1="554.32" x2="500.10" y2="554.32" stroke="#141414" stroke-width="1.3" />
<line x1="112.10" y1="551.37" x2="115.00" y2="551.37" stroke="#141414" stroke-width="1.3" />
<line x1="503.00" y1="551.37" x2="500.10" y2="551.37" stroke="#141414" stroke-width="1.3" />
<line x1="112.10" y1="548.82" x2="115.00" y2="548.82" stroke="#141414" stroke-width="1.3" />
<line x1="503.00" y1="548.82" x2="500.10" y2="548.82" stroke="#141414" stroke-width="1.3" />
<line x1="112.10" y1="546.57" x2="115.00" y2="546.57" stroke="#141414" stroke-width="1.3" />
<line x1="503.00" y1="546.57" x2="500.10" y2="546.57" stroke="#141414" stroke-width="1.3" />
<text x="0" y="0" font-size="15.6" font-weight="bold" stroke="#000" stroke-width="0.3" text-anchor="end" transform="translate(98.60,594.54) scale(0.84,1)">10</text>
<text x="0" y="0" font-size="9.6" font-weight="bold" stroke="#000" stroke-width="0.2" transform="translate(98.20,584.94) scale(0.9,1)">-7</text>
<line x1="109.30" y1="544.56" x2="115.00" y2="544.56" stroke="#141414" stroke-width="1.3" />
<line x1="503.00" y1="544.56" x2="497.30" y2="544.56" stroke="#141414" stroke-width="1.3" />
<line x1="112.10" y1="531.32" x2="115.00" y2="531.32" stroke="#141414" stroke-width="1.3" />
<line x1="503.00" y1="531.32" x2="500.10" y2="531.32" stroke="#141414" stroke-width="1.3" />
<line x1="112.10" y1="523.57" x2="115.00" y2="523.57" stroke="#141414" stroke-width="1.3" />
<line x1="503.00" y1="523.57" x2="500.10" y2="523.57" stroke="#141414" stroke-width="1.3" />
<line x1="112.10" y1="518.08" x2="115.00" y2="518.08" stroke="#141414" stroke-width="1.3" />
<line x1="503.00" y1="518.08" x2="500.10" y2="518.08" stroke="#141414" stroke-width="1.3" />
<line x1="112.10" y1="513.81" x2="115.00" y2="513.81" stroke="#141414" stroke-width="1.3" />
<line x1="503.00" y1="513.81" x2="500.10" y2="513.81" stroke="#141414" stroke-width="1.3" />
<line x1="112.10" y1="510.33" x2="115.00" y2="510.33" stroke="#141414" stroke-width="1.3" />
<line x1="503.00" y1="510.33" x2="500.10" y2="510.33" stroke="#141414" stroke-width="1.3" />
<line x1="112.10" y1="507.38" x2="115.00" y2="507.38" stroke="#141414" stroke-width="1.3" />
<line x1="503.00" y1="507.38" x2="500.10" y2="507.38" stroke="#141414" stroke-width="1.3" />
<line x1="112.10" y1="504.83" x2="115.00" y2="504.83" stroke="#141414" stroke-width="1.3" />
<line x1="503.00" y1="504.83" x2="500.10" y2="504.83" stroke="#141414" stroke-width="1.3" />
<line x1="112.10" y1="502.58" x2="115.00" y2="502.58" stroke="#141414" stroke-width="1.3" />
<line x1="503.00" y1="502.58" x2="500.10" y2="502.58" stroke="#141414" stroke-width="1.3" />
<text x="0" y="0" font-size="15.6" font-weight="bold" stroke="#000" stroke-width="0.3" text-anchor="end" transform="translate(98.60,550.56) scale(0.84,1)">10</text>
<text x="0" y="0" font-size="9.6" font-weight="bold" stroke="#000" stroke-width="0.2" transform="translate(98.20,540.96) scale(0.9,1)">-6</text>
<line x1="109.30" y1="500.57" x2="115.00" y2="500.57" stroke="#141414" stroke-width="1.3" />
<line x1="503.00" y1="500.57" x2="497.30" y2="500.57" stroke="#141414" stroke-width="1.3" />
<line x1="112.10" y1="487.33" x2="115.00" y2="487.33" stroke="#141414" stroke-width="1.3" />
<line x1="503.00" y1="487.33" x2="500.10" y2="487.33" stroke="#141414" stroke-width="1.3" />
<line x1="112.10" y1="479.58" x2="115.00" y2="479.58" stroke="#141414" stroke-width="1.3" />
<line x1="503.00" y1="479.58" x2="500.10" y2="479.58" stroke="#141414" stroke-width="1.3" />
<line x1="112.10" y1="474.09" x2="115.00" y2="474.09" stroke="#141414" stroke-width="1.3" />
<line x1="503.00" y1="474.09" x2="500.10" y2="474.09" stroke="#141414" stroke-width="1.3" />
<line x1="112.10" y1="469.83" x2="115.00" y2="469.83" stroke="#141414" stroke-width="1.3" />
<line x1="503.00" y1="469.83" x2="500.10" y2="469.83" stroke="#141414" stroke-width="1.3" />
<line x1="112.10" y1="466.34" x2="115.00" y2="466.34" stroke="#141414" stroke-width="1.3" />
<line x1="503.00" y1="466.34" x2="500.10" y2="466.34" stroke="#141414" stroke-width="1.3" />
<line x1="112.10" y1="463.40" x2="115.00" y2="463.40" stroke="#141414" stroke-width="1.3" />
<line x1="503.00" y1="463.40" x2="500.10" y2="463.40" stroke="#141414" stroke-width="1.3" />
<line x1="112.10" y1="460.85" x2="115.00" y2="460.85" stroke="#141414" stroke-width="1.3" />
<line x1="503.00" y1="460.85" x2="500.10" y2="460.85" stroke="#141414" stroke-width="1.3" />
<line x1="112.10" y1="458.60" x2="115.00" y2="458.60" stroke="#141414" stroke-width="1.3" />
<line x1="503.00" y1="458.60" x2="500.10" y2="458.60" stroke="#141414" stroke-width="1.3" />
<text x="0" y="0" font-size="15.6" font-weight="bold" stroke="#000" stroke-width="0.3" text-anchor="end" transform="translate(98.60,506.57) scale(0.84,1)">10</text>
<text x="0" y="0" font-size="9.6" font-weight="bold" stroke="#000" stroke-width="0.2" transform="translate(98.20,496.97) scale(0.9,1)">-5</text>
<line x1="109.30" y1="456.59" x2="115.00" y2="456.59" stroke="#141414" stroke-width="1.3" />
<line x1="503.00" y1="456.59" x2="497.30" y2="456.59" stroke="#141414" stroke-width="1.3" />
<line x1="112.10" y1="443.34" x2="115.00" y2="443.34" stroke="#141414" stroke-width="1.3" />
<line x1="503.00" y1="443.34" x2="500.10" y2="443.34" stroke="#141414" stroke-width="1.3" />
<line x1="112.10" y1="435.60" x2="115.00" y2="435.60" stroke="#141414" stroke-width="1.3" />
<line x1="503.00" y1="435.60" x2="500.10" y2="435.60" stroke="#141414" stroke-width="1.3" />
<line x1="112.10" y1="430.10" x2="115.00" y2="430.10" stroke="#141414" stroke-width="1.3" />
<line x1="503.00" y1="430.10" x2="500.10" y2="430.10" stroke="#141414" stroke-width="1.3" />
<line x1="112.10" y1="425.84" x2="115.00" y2="425.84" stroke="#141414" stroke-width="1.3" />
<line x1="503.00" y1="425.84" x2="500.10" y2="425.84" stroke="#141414" stroke-width="1.3" />
<line x1="112.10" y1="422.36" x2="115.00" y2="422.36" stroke="#141414" stroke-width="1.3" />
<line x1="503.00" y1="422.36" x2="500.10" y2="422.36" stroke="#141414" stroke-width="1.3" />
<line x1="112.10" y1="419.41" x2="115.00" y2="419.41" stroke="#141414" stroke-width="1.3" />
<line x1="503.00" y1="419.41" x2="500.10" y2="419.41" stroke="#141414" stroke-width="1.3" />
<line x1="112.10" y1="416.86" x2="115.00" y2="416.86" stroke="#141414" stroke-width="1.3" />
<line x1="503.00" y1="416.86" x2="500.10" y2="416.86" stroke="#141414" stroke-width="1.3" />
<line x1="112.10" y1="414.61" x2="115.00" y2="414.61" stroke="#141414" stroke-width="1.3" />
<line x1="503.00" y1="414.61" x2="500.10" y2="414.61" stroke="#141414" stroke-width="1.3" />
<text x="0" y="0" font-size="15.6" font-weight="bold" stroke="#000" stroke-width="0.3" text-anchor="end" transform="translate(98.60,462.59) scale(0.84,1)">10</text>
<text x="0" y="0" font-size="9.6" font-weight="bold" stroke="#000" stroke-width="0.2" transform="translate(98.20,452.99) scale(0.9,1)">-4</text>
<line x1="109.30" y1="412.60" x2="115.00" y2="412.60" stroke="#141414" stroke-width="1.3" />
<line x1="503.00" y1="412.60" x2="497.30" y2="412.60" stroke="#141414" stroke-width="1.3" />
<text x="0" y="0" font-size="15.6" font-weight="bold" stroke="#000" stroke-width="0.3" text-anchor="end" transform="translate(98.60,418.60) scale(0.84,1)">10</text>
<text x="0" y="0" font-size="9.6" font-weight="bold" stroke="#000" stroke-width="0.2" transform="translate(98.20,409.00) scale(0.9,1)">-3</text>
<line x1="115.00" y1="720.50" x2="115.00" y2="726.20" stroke="#141414" stroke-width="1.3" />
<line x1="115.00" y1="412.60" x2="115.00" y2="418.30" stroke="#141414" stroke-width="1.3" />
<text x="0" y="0" font-size="15.6" font-weight="bold" stroke="#000" stroke-width="0.3" text-anchor="middle" transform="translate(115.40,743.7) scale(0.91,1)">0</text>
<line x1="163.50" y1="720.50" x2="163.50" y2="723.40" stroke="#141414" stroke-width="1.3" />
<line x1="163.50" y1="412.60" x2="163.50" y2="415.50" stroke="#141414" stroke-width="1.3" />
<line x1="212.00" y1="720.50" x2="212.00" y2="726.20" stroke="#141414" stroke-width="1.3" />
<line x1="212.00" y1="412.60" x2="212.00" y2="418.30" stroke="#141414" stroke-width="1.3" />
<text x="0" y="0" font-size="15.6" font-weight="bold" stroke="#000" stroke-width="0.3" text-anchor="middle" transform="translate(212.40,743.7) scale(0.91,1)">500</text>
<line x1="260.50" y1="720.50" x2="260.50" y2="723.40" stroke="#141414" stroke-width="1.3" />
<line x1="260.50" y1="412.60" x2="260.50" y2="415.50" stroke="#141414" stroke-width="1.3" />
<line x1="309.00" y1="720.50" x2="309.00" y2="726.20" stroke="#141414" stroke-width="1.3" />
<line x1="309.00" y1="412.60" x2="309.00" y2="418.30" stroke="#141414" stroke-width="1.3" />
<text x="0" y="0" font-size="15.6" font-weight="bold" stroke="#000" stroke-width="0.3" text-anchor="middle" transform="translate(309.40,743.7) scale(0.91,1)">1000</text>
<line x1="357.50" y1="720.50" x2="357.50" y2="723.40" stroke="#141414" stroke-width="1.3" />
<line x1="357.50" y1="412.60" x2="357.50" y2="415.50" stroke="#141414" stroke-width="1.3" />
<line x1="406.00" y1="720.50" x2="406.00" y2="726.20" stroke="#141414" stroke-width="1.3" />
<line x1="406.00" y1="412.60" x2="406.00" y2="418.30" stroke="#141414" stroke-width="1.3" />
<text x="0" y="0" font-size="15.6" font-weight="bold" stroke="#000" stroke-width="0.3" text-anchor="middle" transform="translate(406.40,743.7) scale(0.91,1)">1500</text>
<line x1="454.50" y1="720.50" x2="454.50" y2="723.40" stroke="#141414" stroke-width="1.3" />
<line x1="454.50" y1="412.60" x2="454.50" y2="415.50" stroke="#141414" stroke-width="1.3" />
<line x1="503.00" y1="720.50" x2="503.00" y2="726.20" stroke="#141414" stroke-width="1.3" />
<line x1="503.00" y1="412.60" x2="503.00" y2="418.30" stroke="#141414" stroke-width="1.3" />
<text x="0" y="0" font-size="15.6" font-weight="bold" stroke="#000" stroke-width="0.3" text-anchor="middle" transform="translate(503.40,743.7) scale(0.91,1)">2000</text>
<text x="307.20" y="769.60" font-size="17" text-anchor="middle" font-weight="bold" fill="#000" stroke="#000" stroke-width="0.3" >Voltage (V)</text>
<text x="0" y="0" font-size="17.2" font-weight="bold" stroke="#000" stroke-width="0.3" text-anchor="middle" transform="translate(70.3,557.5) rotate(-90)">Current (A/mm)</text>
</svg>
</body></html>
